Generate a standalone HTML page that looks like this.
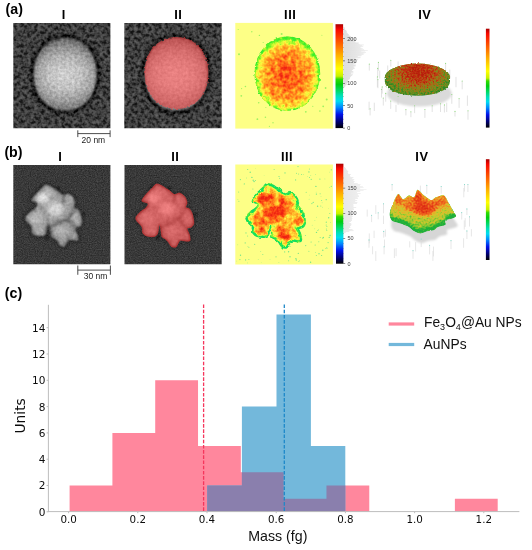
<!DOCTYPE html>
<html lang="en"><head><meta charset="utf-8"><title>Figure</title>
<style>
html,body{margin:0;padding:0;background:#fff;}
body{width:532px;height:550px;overflow:hidden;}
svg{display:block;}
text{font-family:"Liberation Sans",sans-serif;fill:#000;}
.b{font-weight:bold;}
.dv{font-family:"DejaVu Sans","Liberation Sans",sans-serif;fill:#0c0c0c;}
</style></head><body>
<svg width="532" height="550" viewBox="0 0 532 550">
<defs>

<filter id="temA" x="0" y="0" width="100%" height="100%" filterUnits="objectBoundingBox" color-interpolation-filters="sRGB">
  <feGaussianBlur in="SourceGraphic" stdDeviation="0.9" result="s"/>
  <feTurbulence type="fractalNoise" baseFrequency="0.29" numOctaves="2" seed="7" result="t"/>
  <feColorMatrix in="t" type="matrix" values="1 0 0 0 0  1 0 0 0 0  1 0 0 0 0  0 0 0 0 1" result="n0"/>
  <feComponentTransfer in="n0" result="n">
    <feFuncR type="table" tableValues="0.04 0.05 0.07 0.105 0.17 0.245 0.298 0.338 0.375 0.405 0.435"/>
    <feFuncG type="table" tableValues="0.04 0.05 0.07 0.105 0.17 0.245 0.298 0.338 0.375 0.405 0.435"/>
    <feFuncB type="table" tableValues="0.04 0.05 0.07 0.105 0.17 0.245 0.298 0.338 0.375 0.405 0.435"/>
  </feComponentTransfer>
  <feComposite in="s" in2="n" operator="arithmetic" k1="0" k2="1" k3="1" k4="-0.5"/>
</filter>
<filter id="temAp" x="-5%" y="-5%" width="110%" height="110%" color-interpolation-filters="sRGB">
  <feGaussianBlur in="SourceGraphic" stdDeviation="1.0" result="s"/>
  <feTurbulence type="fractalNoise" baseFrequency="0.36" numOctaves="2" seed="17" result="t"/>
  <feColorMatrix in="t" type="matrix" values="1 0 0 0 0  1 0 0 0 0  1 0 0 0 0  0 0 0 0 1" result="n"/>
  <feComposite in="s" in2="n" operator="arithmetic" k1="0" k2="1" k3="0.3" k4="-0.15" result="c"/>
  <feComposite in="c" in2="s" operator="in"/>
</filter>
<filter id="temB" x="0" y="0" width="100%" height="100%" filterUnits="objectBoundingBox" color-interpolation-filters="sRGB">
  <feGaussianBlur in="SourceGraphic" stdDeviation="0.5" result="s"/>
  <feTurbulence type="fractalNoise" baseFrequency="0.85" numOctaves="2" seed="11" result="t"/>
  <feColorMatrix in="t" type="matrix" values="1 0 0 0 0  1 0 0 0 0  1 0 0 0 0  0 0 0 0 1" result="n"/>
  <feComposite in="s" in2="n" operator="arithmetic" k1="0" k2="1" k3="0.22" k4="-0.11"/>
</filter>
<filter id="temBp" x="-5%" y="-5%" width="110%" height="110%" color-interpolation-filters="sRGB">
  <feGaussianBlur in="SourceGraphic" stdDeviation="0.85" result="s"/>
  <feTurbulence type="fractalNoise" baseFrequency="0.3" numOctaves="3" seed="19" result="t"/>
  <feColorMatrix in="t" type="matrix" values="1 0 0 0 0  1 0 0 0 0  1 0 0 0 0  0 0 0 0 1" result="n"/>
  <feComposite in="s" in2="n" operator="arithmetic" k1="0" k2="1" k3="0.22" k4="-0.11" result="c"/>
  <feComposite in="c" in2="s" operator="in"/>
</filter>
<filter id="blur1"><feGaussianBlur stdDeviation="1"/></filter>
<filter id="blur2"><feGaussianBlur stdDeviation="2"/></filter>
<filter id="blur3"><feGaussianBlur stdDeviation="3.2"/></filter>
<filter id="rag" x="-10%" y="-10%" width="120%" height="120%" color-interpolation-filters="sRGB">
  <feTurbulence type="fractalNoise" baseFrequency="0.45" numOctaves="2" seed="5" result="t"/>
  <feDisplacementMap in="SourceGraphic" in2="t" scale="3" xChannelSelector="R" yChannelSelector="G"/>
</filter>

<filter id="heat" x="-10%" y="-10%" width="120%" height="120%" color-interpolation-filters="sRGB">
  <feTurbulence type="fractalNoise" baseFrequency="0.24" numOctaves="2" seed="21" result="t"/>
  <feDisplacementMap in="SourceGraphic" in2="t" scale="3" xChannelSelector="R" yChannelSelector="G" result="d"/>
  <feColorMatrix in="t" type="matrix" values="0 0 1 0 0  0 0 1 0 0  0 0 1 0 0  0 0 0 0 1" result="n"/>
  <feComposite in="d" in2="n" operator="arithmetic" k1="0" k2="1" k3="0.7" k4="-0.33" result="h"/>
  <feComponentTransfer in="h" result="c">
    <feFuncR type="table" tableValues="0.235 0.373 0.588 0.824 1.000 1.000 1.000 1.000 1.000 0.980 0.933"/>
    <feFuncG type="table" tableValues="0.933 0.949 0.969 0.980 0.965 0.839 0.698 0.549 0.392 0.243 0.133"/>
    <feFuncB type="table" tableValues="0.173 0.165 0.165 0.196 0.251 0.196 0.149 0.118 0.094 0.078 0.071"/>
  </feComponentTransfer>
  <feComposite in="c" in2="d" operator="in"/>
</filter>

<filter id="surf" x="-10%" y="-10%" width="120%" height="120%" color-interpolation-filters="sRGB">
  <feTurbulence type="fractalNoise" baseFrequency="0.55" numOctaves="2" seed="9" result="t"/>
  <feDisplacementMap in="SourceGraphic" in2="t" scale="2.5" xChannelSelector="R" yChannelSelector="G" result="d"/>
  <feColorMatrix in="t" type="matrix" values="0 0 1 0 0  0 0 1 0 0  0 0 1 0 0  0 0 0 0 1" result="n"/>
  <feComposite in="d" in2="n" operator="arithmetic" k1="0" k2="1" k3="1.15" k4="-0.575" result="h"/>
  <feComponentTransfer in="h" result="c">
    <feFuncR type="table" tableValues="0.196 0.275 0.373 0.471 0.557 0.627 0.682 0.722 0.745 0.745 0.714"/>
    <feFuncG type="table" tableValues="0.525 0.549 0.557 0.541 0.510 0.447 0.369 0.290 0.212 0.157 0.118"/>
    <feFuncB type="table" tableValues="0.149 0.129 0.118 0.110 0.102 0.094 0.086 0.078 0.067 0.055 0.047"/>
  </feComponentTransfer>
  <feComposite in="c" in2="d" operator="in"/>
</filter>

<filter id="surfB" x="-10%" y="-10%" width="120%" height="120%" color-interpolation-filters="sRGB">
  <feTurbulence type="fractalNoise" baseFrequency="0.5" numOctaves="2" seed="14" result="t"/>
  <feDisplacementMap in="SourceGraphic" in2="t" scale="2" xChannelSelector="R" yChannelSelector="G" result="d"/>
  <feColorMatrix in="t" type="matrix" values="0 0 1 0 0  0 0 1 0 0  0 0 1 0 0  0 0 0 0 1" result="n"/>
  <feComposite in="d" in2="n" operator="arithmetic" k1="0" k2="1" k3="0.6" k4="-0.3" result="h"/>
  <feComponentTransfer in="h" result="c">
    <feFuncR type="table" tableValues="0.118 0.235 0.431 0.647 0.804 0.882 0.922 0.933 0.925 0.902 0.863"/>
    <feFuncG type="table" tableValues="0.686 0.725 0.765 0.784 0.784 0.725 0.608 0.471 0.353 0.255 0.176"/>
    <feFuncB type="table" tableValues="0.235 0.216 0.196 0.188 0.180 0.165 0.149 0.125 0.110 0.094 0.078"/>
  </feComponentTransfer>
  <feComposite in="c" in2="d" operator="in"/>
</filter>

<radialGradient id="gPartA" cx="0.5" cy="0.52" r="0.52">
  <stop offset="0" stop-color="#cecece"/><stop offset="0.35" stop-color="#c6c6c6"/>
  <stop offset="0.6" stop-color="#b8b8b8"/><stop offset="0.8" stop-color="#a4a4a4"/><stop offset="0.92" stop-color="#8e8e8e"/><stop offset="1" stop-color="#6c6c6c"/>
</radialGradient>
<linearGradient id="gShade" x1="0" y1="0" x2="0" y2="1">
  <stop offset="0" stop-color="#000" stop-opacity="0.26"/><stop offset="0.2" stop-color="#000" stop-opacity="0.1"/>
  <stop offset="0.42" stop-color="#000" stop-opacity="0"/><stop offset="0.62" stop-color="#000" stop-opacity="0"/>
  <stop offset="0.82" stop-color="#000" stop-opacity="0.1"/><stop offset="1" stop-color="#000" stop-opacity="0.24"/>
</linearGradient>
<radialGradient id="gHeatA" cx="0.5" cy="0.52" r="0.5">
  <stop offset="0" stop-color="#d6d6d6"/><stop offset="0.4" stop-color="#bcbcbc"/>
  <stop offset="0.68" stop-color="#9c9c9c"/><stop offset="0.8" stop-color="#7c7c7c"/>
  <stop offset="0.87" stop-color="#626262"/><stop offset="0.915" stop-color="#484848"/><stop offset="0.955" stop-color="#1c1c1c"/><stop offset="1" stop-color="#080808"/>
</radialGradient>
<radialGradient id="gDome" gradientUnits="userSpaceOnUse" cx="418" cy="72" r="36" gradientTransform="translate(0 72) scale(1 0.66) translate(0 -72)">
  <stop offset="0" stop-color="#eeeeee"/><stop offset="0.3" stop-color="#d0d0d0"/>
  <stop offset="0.55" stop-color="#989898"/><stop offset="0.78" stop-color="#5e5e5e"/><stop offset="1" stop-color="#1c1c1c"/>
</radialGradient>
<linearGradient id="gF3D" gradientUnits="userSpaceOnUse" x1="0" y1="191" x2="0" y2="235">
  <stop offset="0" stop-color="#a8a8a8"/><stop offset="0.3" stop-color="#8a8a8a"/><stop offset="0.6" stop-color="#666666"/>
  <stop offset="1" stop-color="#3c3c3c"/>
</linearGradient>
<linearGradient id="gHist" gradientUnits="userSpaceOnUse" x1="343" y1="0" x2="368" y2="0">
  <stop offset="0" stop-color="#d4d4d4"/><stop offset="0.5" stop-color="#dedede"/><stop offset="1" stop-color="#ececec"/>
</linearGradient>
<linearGradient id="cbar" x1="0" y1="1" x2="0" y2="0">
  <stop offset="0" stop-color="#000000"/>
  <stop offset="0.06" stop-color="#000070"/>
  <stop offset="0.13" stop-color="#0010e8"/>
  <stop offset="0.2" stop-color="#0088ff"/>
  <stop offset="0.26" stop-color="#00dcf0"/>
  <stop offset="0.31" stop-color="#00e0b8"/>
  <stop offset="0.37" stop-color="#00d858"/>
  <stop offset="0.42" stop-color="#00cc10"/>
  <stop offset="0.47" stop-color="#30dc00"/>
  <stop offset="0.5" stop-color="#c8f000"/>
  <stop offset="0.57" stop-color="#ffff00"/>
  <stop offset="0.7" stop-color="#ffb000"/>
  <stop offset="0.8" stop-color="#ff6a00"/>
  <stop offset="0.95" stop-color="#f80800"/>
  <stop offset="1" stop-color="#a80000"/>
</linearGradient>
</defs>
<rect width="532" height="550" fill="#fff"/>
<clipPath id="clA1"><rect x="13.3" y="23.0" width="97.1" height="105.2"/></clipPath><clipPath id="clA2"><rect x="124.3" y="23.0" width="97.4" height="105.2"/></clipPath>
<!-- row a -->
<g clip-path="url(#clA1)"><g filter="url(#temA)"><rect x="9.3" y="19.0" width="105.1" height="113.2" fill="#808080"/><path d="M97.6 74.2L97.5 77.9L97.1 81.4L96.6 84.6L95.8 87.8L94.7 90.8L93.5 93.6L92.0 96.3L90.4 98.8L88.6 101.2L86.6 103.3L84.4 105.2L82.0 106.9L79.6 108.3L77.0 109.5L74.3 110.4L71.4 111.1L68.4 111.5L65.2 111.6L62.0 111.5L59.0 111.1L56.1 110.4L53.4 109.5L50.8 108.3L48.4 106.9L46.0 105.2L43.8 103.3L41.8 101.2L40.0 98.8L38.4 96.3L36.9 93.6L35.7 90.8L34.6 87.8L33.8 84.6L33.3 81.4L32.9 77.9L32.8 74.2L32.9 70.5L33.3 67.0L33.8 63.8L34.6 60.6L35.7 57.6L36.9 54.8L38.4 52.1L40.0 49.6L41.8 47.2L43.8 45.1L46.0 43.2L48.4 41.5L50.8 40.1L53.4 38.9L56.1 38.0L59.0 37.3L62.0 36.9L65.2 36.8L68.4 36.9L71.4 37.3L74.3 38.0L77.0 38.9L79.6 40.1L82.0 41.5L84.4 43.2L86.6 45.1L88.6 47.2L90.4 49.6L92.0 52.1L93.5 54.8L94.7 57.6L95.8 60.6L96.6 63.8L97.1 67.0L97.5 70.5Z" fill="#5e5e5e" stroke="#5e5e5e" stroke-width="5.6" stroke-linejoin="round"/></g></g><g filter="url(#temAp)"><path d="M97.4 74.2L97.3 77.9L96.9 81.3L96.4 84.6L95.6 87.7L94.5 90.7L93.3 93.5L91.9 96.2L90.2 98.7L88.4 101.0L86.4 103.1L84.3 105.0L81.9 106.7L79.5 108.1L76.9 109.3L74.2 110.2L71.4 110.9L68.4 111.3L65.2 111.4L62.0 111.3L59.0 110.9L56.2 110.2L53.5 109.3L50.9 108.1L48.5 106.7L46.1 105.0L44.0 103.1L42.0 101.0L40.2 98.7L38.5 96.2L37.1 93.5L35.9 90.7L34.8 87.7L34.0 84.6L33.5 81.3L33.1 77.9L33.0 74.2L33.1 70.5L33.5 67.1L34.0 63.8L34.8 60.7L35.9 57.7L37.1 54.9L38.5 52.2L40.2 49.7L42.0 47.4L44.0 45.3L46.1 43.4L48.5 41.7L50.9 40.3L53.5 39.1L56.2 38.2L59.0 37.5L62.0 37.1L65.2 37.0L68.4 37.1L71.4 37.5L74.2 38.2L76.9 39.1L79.5 40.3L81.9 41.7L84.3 43.4L86.4 45.3L88.4 47.4L90.2 49.7L91.9 52.2L93.3 54.9L94.5 57.7L95.6 60.7L96.4 63.8L96.9 67.1L97.3 70.5Z" fill="url(#gPartA)"/><path d="M97.4 74.2L97.3 77.9L96.9 81.3L96.4 84.6L95.6 87.7L94.5 90.7L93.3 93.5L91.9 96.2L90.2 98.7L88.4 101.0L86.4 103.1L84.3 105.0L81.9 106.7L79.5 108.1L76.9 109.3L74.2 110.2L71.4 110.9L68.4 111.3L65.2 111.4L62.0 111.3L59.0 110.9L56.2 110.2L53.5 109.3L50.9 108.1L48.5 106.7L46.1 105.0L44.0 103.1L42.0 101.0L40.2 98.7L38.5 96.2L37.1 93.5L35.9 90.7L34.8 87.7L34.0 84.6L33.5 81.3L33.1 77.9L33.0 74.2L33.1 70.5L33.5 67.1L34.0 63.8L34.8 60.7L35.9 57.7L37.1 54.9L38.5 52.2L40.2 49.7L42.0 47.4L44.0 45.3L46.1 43.4L48.5 41.7L50.9 40.3L53.5 39.1L56.2 38.2L59.0 37.5L62.0 37.1L65.2 37.0L68.4 37.1L71.4 37.5L74.2 38.2L76.9 39.1L79.5 40.3L81.9 41.7L84.3 43.4L86.4 45.3L88.4 47.4L90.2 49.7L91.9 52.2L93.3 54.9L94.5 57.7L95.6 60.7L96.4 63.8L96.9 67.1L97.3 70.5Z" fill="url(#gShade)"/></g>
<g clip-path="url(#clA2)"><g filter="url(#temA)"><rect x="120.3" y="19.0" width="105.4" height="113.2" fill="#808080"/><path d="M208.6 74.2L208.5 77.9L208.1 81.4L207.6 84.6L206.8 87.8L205.7 90.8L204.5 93.6L203.0 96.3L201.4 98.8L199.6 101.2L197.6 103.3L195.4 105.2L193.0 106.9L190.6 108.3L188.0 109.5L185.3 110.4L182.4 111.1L179.4 111.5L176.2 111.6L173.0 111.5L170.0 111.1L167.1 110.4L164.4 109.5L161.8 108.3L159.4 106.9L157.0 105.2L154.8 103.3L152.8 101.2L151.0 98.8L149.4 96.3L147.9 93.6L146.7 90.8L145.6 87.8L144.8 84.6L144.3 81.4L143.9 77.9L143.8 74.2L143.9 70.5L144.3 67.0L144.8 63.8L145.6 60.6L146.7 57.6L147.9 54.8L149.4 52.1L151.0 49.6L152.8 47.2L154.8 45.1L157.0 43.2L159.4 41.5L161.8 40.1L164.4 38.9L167.1 38.0L170.0 37.3L173.0 36.9L176.2 36.8L179.4 36.9L182.4 37.3L185.3 38.0L188.0 38.9L190.6 40.1L193.0 41.5L195.4 43.2L197.6 45.1L199.6 47.2L201.4 49.6L203.0 52.1L204.5 54.8L205.7 57.6L206.8 60.6L207.6 63.8L208.1 67.0L208.5 70.5Z" fill="#5e5e5e" stroke="#5e5e5e" stroke-width="5.6" stroke-linejoin="round"/></g></g><g filter="url(#temAp)"><path d="M208.4 74.2L208.3 77.9L207.9 81.3L207.4 84.6L206.6 87.7L205.5 90.7L204.3 93.5L202.9 96.2L201.2 98.7L199.4 101.0L197.4 103.1L195.3 105.0L192.9 106.7L190.5 108.1L187.9 109.3L185.2 110.2L182.4 110.9L179.4 111.3L176.2 111.4L173.0 111.3L170.0 110.9L167.2 110.2L164.5 109.3L161.9 108.1L159.5 106.7L157.1 105.0L155.0 103.1L153.0 101.0L151.2 98.7L149.5 96.2L148.1 93.5L146.9 90.7L145.8 87.7L145.0 84.6L144.5 81.3L144.1 77.9L144.0 74.2L144.1 70.5L144.5 67.1L145.0 63.8L145.8 60.7L146.9 57.7L148.1 54.9L149.5 52.2L151.2 49.7L153.0 47.4L155.0 45.3L157.1 43.4L159.5 41.7L161.9 40.3L164.5 39.1L167.2 38.2L170.0 37.5L173.0 37.1L176.2 37.0L179.4 37.1L182.4 37.5L185.2 38.2L187.9 39.1L190.5 40.3L192.9 41.7L195.3 43.4L197.4 45.3L199.4 47.4L201.2 49.7L202.9 52.2L204.3 54.9L205.5 57.7L206.6 60.7L207.4 63.8L207.9 67.1L208.3 70.5Z" fill="url(#gPartA)"/><path d="M208.4 74.2L208.3 77.9L207.9 81.3L207.4 84.6L206.6 87.7L205.5 90.7L204.3 93.5L202.9 96.2L201.2 98.7L199.4 101.0L197.4 103.1L195.3 105.0L192.9 106.7L190.5 108.1L187.9 109.3L185.2 110.2L182.4 110.9L179.4 111.3L176.2 111.4L173.0 111.3L170.0 110.9L167.2 110.2L164.5 109.3L161.9 108.1L159.5 106.7L157.1 105.0L155.0 103.1L153.0 101.0L151.2 98.7L149.5 96.2L148.1 93.5L146.9 90.7L145.8 87.7L145.0 84.6L144.5 81.3L144.1 77.9L144.0 74.2L144.1 70.5L144.5 67.1L145.0 63.8L145.8 60.7L146.9 57.7L148.1 54.9L149.5 52.2L151.2 49.7L153.0 47.4L155.0 45.3L157.1 43.4L159.5 41.7L161.9 40.3L164.5 39.1L167.2 38.2L170.0 37.5L173.0 37.1L176.2 37.0L179.4 37.1L182.4 37.5L185.2 38.2L187.9 39.1L190.5 40.3L192.9 41.7L195.3 43.4L197.4 45.3L199.4 47.4L201.2 49.7L202.9 52.2L204.3 54.9L205.5 57.7L206.6 60.7L207.4 63.8L207.9 67.1L208.3 70.5Z" fill="url(#gShade)"/></g><g filter="url(#rag)"><path d="M208.4 73.0L208.3 76.6L207.9 79.9L207.4 83.0L206.6 86.0L205.6 88.9L204.4 91.7L202.9 94.2L201.3 96.7L199.5 98.9L197.5 100.9L195.4 102.7L193.1 104.3L190.7 105.7L188.1 106.9L185.4 107.7L182.6 108.4L179.7 108.8L176.5 108.9L173.3 108.8L170.4 108.4L167.6 107.7L164.9 106.9L162.3 105.7L159.9 104.3L157.6 102.7L155.5 100.9L153.5 98.9L151.7 96.7L150.1 94.2L148.6 91.7L147.4 88.9L146.4 86.0L145.6 83.0L145.1 79.9L144.7 76.6L144.6 73.0L144.7 69.4L145.1 66.1L145.6 63.0L146.4 60.0L147.4 57.1L148.6 54.3L150.1 51.8L151.7 49.3L153.5 47.1L155.5 45.1L157.6 43.3L159.9 41.7L162.3 40.3L164.9 39.1L167.6 38.3L170.4 37.6L173.3 37.2L176.5 37.1L179.7 37.2L182.6 37.6L185.4 38.3L188.1 39.1L190.7 40.3L193.1 41.7L195.4 43.3L197.5 45.1L199.5 47.1L201.3 49.3L202.9 51.8L204.4 54.3L205.6 57.1L206.6 60.0L207.4 63.0L207.9 66.1L208.3 69.4Z" fill="#ff4646" fill-opacity="0.56"/></g>
<rect x="235.3" y="22.9" width="97.6" height="105.7" fill="#fdff86"/>
<g fill="#8df05a" opacity="0.85"><circle cx="259.4" cy="35.4" r="0.7"/><circle cx="251.8" cy="31.7" r="0.7"/><circle cx="323.2" cy="106.3" r="0.9"/><circle cx="263.2" cy="42.5" r="0.6"/><circle cx="257.4" cy="119.2" r="0.9"/><circle cx="312.8" cy="106.3" r="0.6"/><circle cx="305.8" cy="111.8" r="0.9"/><circle cx="245.4" cy="86.5" r="0.8"/><circle cx="281.6" cy="34.0" r="1.0"/><circle cx="265.4" cy="117.3" r="0.8"/><circle cx="319.9" cy="111.1" r="0.8"/><circle cx="265.9" cy="107.5" r="0.5"/><circle cx="241.6" cy="88.6" r="0.6"/><circle cx="269.4" cy="126.3" r="0.6"/><circle cx="321.9" cy="35.2" r="0.5"/><circle cx="258.7" cy="102.7" r="0.8"/><circle cx="241.3" cy="95.8" r="0.9"/><circle cx="326.7" cy="99.6" r="1.0"/><circle cx="239.0" cy="54.3" r="1.0"/><circle cx="325.6" cy="88.0" r="0.9"/><circle cx="273.0" cy="122.7" r="0.7"/><circle cx="238.2" cy="29.5" r="0.6"/></g>
<g filter="url(#heat)"><ellipse cx="287.3" cy="73.6" rx="33" ry="37.4" fill="url(#gHeatA)"/></g>
<rect x="335.5" y="24.2" width="7.6" height="103.9" fill="url(#cbar)"/>
<rect x="485.9" y="28.7" width="3.6" height="98.9" fill="url(#cbar)"/>
<g fill="url(#gHist)"><rect x="343.3" y="27.00" width="1.0" height="0.70"/><rect x="343.3" y="27.73" width="1.5" height="0.70"/><rect x="343.3" y="28.47" width="1.4" height="0.70"/><rect x="343.3" y="29.20" width="1.7" height="0.70"/><rect x="343.3" y="29.93" width="2.8" height="0.70"/><rect x="343.3" y="30.67" width="3.1" height="0.70"/><rect x="343.3" y="31.40" width="3.5" height="0.70"/><rect x="343.3" y="32.13" width="3.4" height="0.70"/><rect x="343.3" y="32.87" width="4.2" height="0.70"/><rect x="343.3" y="33.60" width="4.6" height="0.70"/><rect x="343.3" y="34.29" width="5.5" height="0.70"/><rect x="343.3" y="34.98" width="5.4" height="0.70"/><rect x="343.3" y="35.67" width="6.9" height="0.70"/><rect x="343.3" y="36.36" width="7.7" height="0.70"/><rect x="343.3" y="37.05" width="9.7" height="0.70"/><rect x="343.3" y="37.74" width="11.6" height="0.70"/><rect x="343.3" y="38.43" width="12.5" height="0.70"/><rect x="343.3" y="39.12" width="11.8" height="0.70"/><rect x="343.3" y="39.81" width="12.2" height="0.70"/><rect x="343.3" y="40.50" width="12.2" height="0.70"/><rect x="343.3" y="41.18" width="11.6" height="0.70"/><rect x="343.3" y="41.86" width="12.2" height="0.70"/><rect x="343.3" y="42.54" width="15.4" height="0.70"/><rect x="343.3" y="43.22" width="15.2" height="0.70"/><rect x="343.3" y="43.90" width="16.3" height="0.70"/><rect x="343.3" y="44.58" width="20.6" height="0.70"/><rect x="343.3" y="45.26" width="18.8" height="0.70"/><rect x="343.3" y="45.94" width="19.9" height="0.70"/><rect x="343.3" y="46.62" width="18.1" height="0.70"/><rect x="343.3" y="47.30" width="17.1" height="0.70"/><rect x="343.3" y="47.98" width="19.4" height="0.70"/><rect x="343.3" y="48.67" width="17.9" height="0.70"/><rect x="343.3" y="49.35" width="20.8" height="0.70"/><rect x="343.3" y="50.03" width="24.5" height="0.70"/><rect x="343.3" y="50.72" width="21.9" height="0.70"/><rect x="343.3" y="51.40" width="18.0" height="0.70"/><rect x="343.3" y="52.07" width="22.7" height="0.70"/><rect x="343.3" y="52.75" width="21.2" height="0.70"/><rect x="343.3" y="53.42" width="19.9" height="0.70"/><rect x="343.3" y="54.10" width="20.3" height="0.70"/><rect x="343.3" y="54.77" width="18.5" height="0.70"/><rect x="343.3" y="55.45" width="17.9" height="0.70"/><rect x="343.3" y="56.12" width="14.5" height="0.70"/><rect x="343.3" y="56.80" width="17.4" height="0.70"/><rect x="343.3" y="57.49" width="16.9" height="0.70"/><rect x="343.3" y="58.18" width="12.2" height="0.70"/><rect x="343.3" y="58.87" width="14.9" height="0.70"/><rect x="343.3" y="59.56" width="14.4" height="0.70"/><rect x="343.3" y="60.25" width="12.7" height="0.70"/><rect x="343.3" y="60.94" width="12.7" height="0.70"/><rect x="343.3" y="61.63" width="12.1" height="0.70"/><rect x="343.3" y="62.32" width="13.8" height="0.70"/><rect x="343.3" y="63.01" width="11.5" height="0.70"/><rect x="343.3" y="63.70" width="12.5" height="0.70"/><rect x="343.3" y="64.38" width="10.3" height="0.70"/><rect x="343.3" y="65.05" width="12.4" height="0.70"/><rect x="343.3" y="65.72" width="12.2" height="0.70"/><rect x="343.3" y="66.40" width="10.3" height="0.70"/><rect x="343.3" y="67.08" width="10.5" height="0.70"/><rect x="343.3" y="67.75" width="11.7" height="0.70"/><rect x="343.3" y="68.42" width="10.8" height="0.70"/><rect x="343.3" y="69.10" width="9.7" height="0.70"/><rect x="343.3" y="69.78" width="8.6" height="0.70"/><rect x="343.3" y="70.45" width="8.8" height="0.70"/><rect x="343.3" y="71.12" width="10.0" height="0.70"/><rect x="343.3" y="71.80" width="7.9" height="0.70"/><rect x="343.3" y="72.49" width="10.1" height="0.70"/><rect x="343.3" y="73.18" width="7.7" height="0.70"/><rect x="343.3" y="73.87" width="9.5" height="0.70"/><rect x="343.3" y="74.56" width="7.3" height="0.70"/><rect x="343.3" y="75.25" width="8.9" height="0.70"/><rect x="343.3" y="75.94" width="7.8" height="0.70"/><rect x="343.3" y="76.63" width="7.0" height="0.70"/><rect x="343.3" y="77.32" width="6.7" height="0.70"/><rect x="343.3" y="78.01" width="6.7" height="0.70"/><rect x="343.3" y="78.70" width="6.3" height="0.70"/><rect x="343.3" y="79.36" width="5.3" height="0.70"/><rect x="343.3" y="80.03" width="4.7" height="0.70"/><rect x="343.3" y="80.69" width="4.9" height="0.70"/><rect x="343.3" y="81.35" width="5.3" height="0.70"/><rect x="343.3" y="82.01" width="4.4" height="0.70"/><rect x="343.3" y="82.67" width="3.2" height="0.70"/><rect x="343.3" y="83.34" width="3.8" height="0.70"/><rect x="343.3" y="84.00" width="3.3" height="0.70"/><rect x="343.3" y="84.67" width="3.0" height="0.70"/><rect x="343.3" y="85.33" width="1.9" height="0.70"/><rect x="343.3" y="86.00" width="1.9" height="0.70"/><rect x="343.3" y="86.67" width="1.1" height="0.70"/><rect x="343.3" y="87.33" width="0.9" height="0.70"/></g>
<g font-size="5.5"><rect x="343.0" y="127.85" width="0.8" height="0.5" fill="#777"/><rect x="343.0" y="123.37" width="0.8" height="0.5" fill="#777"/><rect x="343.0" y="118.89" width="0.8" height="0.5" fill="#777"/><rect x="343.0" y="114.41" width="0.8" height="0.5" fill="#777"/><rect x="343.0" y="109.93" width="0.8" height="0.5" fill="#777"/><rect x="343.0" y="105.45" width="0.8" height="0.5" fill="#777"/><rect x="343.0" y="100.97" width="0.8" height="0.5" fill="#777"/><rect x="343.0" y="96.49" width="0.8" height="0.5" fill="#777"/><rect x="343.0" y="92.01" width="0.8" height="0.5" fill="#777"/><rect x="343.0" y="87.53" width="0.8" height="0.5" fill="#777"/><rect x="343.0" y="83.05" width="0.8" height="0.5" fill="#777"/><rect x="343.0" y="78.57" width="0.8" height="0.5" fill="#777"/><rect x="343.0" y="74.09" width="0.8" height="0.5" fill="#777"/><rect x="343.0" y="69.61" width="0.8" height="0.5" fill="#777"/><rect x="343.0" y="65.13" width="0.8" height="0.5" fill="#777"/><rect x="343.0" y="60.65" width="0.8" height="0.5" fill="#777"/><rect x="343.0" y="56.17" width="0.8" height="0.5" fill="#777"/><rect x="343.0" y="51.69" width="0.8" height="0.5" fill="#777"/><rect x="343.0" y="47.21" width="0.8" height="0.5" fill="#777"/><rect x="343.0" y="42.73" width="0.8" height="0.5" fill="#777"/><rect x="343.0" y="38.25" width="0.8" height="0.5" fill="#777"/><rect x="343.0" y="33.77" width="0.8" height="0.5" fill="#777"/><rect x="343.0" y="29.29" width="0.8" height="0.5" fill="#777"/><rect x="343.2" y="127.80" width="1.8" height="0.6" fill="#444"/><text x="347.3" y="130.0" style="fill:#3c3c3c">0</text><rect x="343.2" y="105.40" width="1.8" height="0.6" fill="#444"/><text x="347.3" y="107.6" style="fill:#3c3c3c">50</text><rect x="343.2" y="83.00" width="1.8" height="0.6" fill="#444"/><text x="347.3" y="85.2" style="fill:#3c3c3c">100</text><rect x="343.2" y="60.60" width="1.8" height="0.6" fill="#444"/><text x="347.3" y="62.9" style="fill:#3c3c3c">150</text><rect x="343.2" y="38.20" width="1.8" height="0.6" fill="#444"/><text x="347.3" y="40.5" style="fill:#3c3c3c">200</text></g>
<ellipse cx="419.4" cy="93.6" rx="32.5" ry="13" fill="#dadada" filter="url(#blur1)"/>
<g stroke="#d6d6d6" stroke-width="0.7"><line x1="378.4" y1="62.4" x2="378.4" y2="70.7"/><line x1="387.7" y1="65.5" x2="387.7" y2="72.7"/><line x1="398.1" y1="61.4" x2="398.1" y2="66.5"/><line x1="445.6" y1="63.4" x2="445.6" y2="71.7"/><line x1="377.4" y1="76.9" x2="377.4" y2="87.2"/><line x1="385.7" y1="93.4" x2="385.7" y2="101.7"/><line x1="374.3" y1="102.7" x2="374.3" y2="111.0"/><line x1="369.1" y1="101.7" x2="369.1" y2="110.0"/><line x1="398.1" y1="96.5" x2="398.1" y2="104.8"/><line x1="414.6" y1="105.8" x2="414.6" y2="113.1"/><line x1="396.0" y1="104.8" x2="396.0" y2="112.0"/><line x1="440.5" y1="103.8" x2="440.5" y2="112.0"/><line x1="446.7" y1="102.7" x2="446.7" y2="112.0"/><line x1="432.2" y1="105.8" x2="432.2" y2="112.0"/><line x1="451.8" y1="94.5" x2="451.8" y2="103.8"/><line x1="456.0" y1="76.9" x2="456.0" y2="87.2"/><line x1="462.2" y1="81.0" x2="462.2" y2="89.3"/><line x1="467.4" y1="95.5" x2="467.4" y2="105.8"/><line x1="449.8" y1="69.6" x2="449.8" y2="78.9"/><line x1="381.5" y1="89.3" x2="381.5" y2="97.6"/><line x1="459.1" y1="98.6" x2="459.1" y2="107.9"/><line x1="369.3" y1="64.1" x2="369.3" y2="70.6"/><line x1="379.7" y1="70.5" x2="379.7" y2="78.5"/><line x1="383.3" y1="98.0" x2="383.3" y2="105.6"/><line x1="382.2" y1="86.9" x2="382.2" y2="93.7"/><line x1="410.9" y1="111.8" x2="410.9" y2="117.2"/><line x1="370.1" y1="108.7" x2="370.1" y2="115.4"/><line x1="405.9" y1="109.6" x2="405.9" y2="115.4"/><line x1="424.9" y1="109.5" x2="424.9" y2="117.9"/><line x1="455.0" y1="111.4" x2="455.0" y2="116.5"/><line x1="444.4" y1="104.9" x2="444.4" y2="112.5"/><line x1="390.7" y1="101.0" x2="390.7" y2="108.9"/><line x1="390.8" y1="60.2" x2="390.8" y2="66.6"/><line x1="468.0" y1="110.7" x2="468.0" y2="119.7"/><line x1="377.7" y1="68.4" x2="377.7" y2="77.1"/><line x1="377.9" y1="79.6" x2="377.9" y2="88.2"/></g><g fill="#8fdc7c"><circle cx="378.4" cy="62.4" r="0.55"/><circle cx="445.6" cy="63.4" r="0.55"/><circle cx="377.4" cy="76.9" r="0.55"/><circle cx="385.7" cy="93.4" r="0.55"/><circle cx="398.1" cy="96.5" r="0.55"/><circle cx="414.6" cy="105.8" r="0.55"/><circle cx="440.5" cy="103.8" r="0.55"/><circle cx="432.2" cy="105.8" r="0.55"/><circle cx="451.8" cy="94.5" r="0.55"/><circle cx="462.2" cy="81.0" r="0.55"/><circle cx="381.5" cy="89.3" r="0.55"/><circle cx="459.1" cy="98.6" r="0.55"/><circle cx="369.3" cy="64.1" r="0.55"/><circle cx="383.3" cy="98.0" r="0.55"/><circle cx="382.2" cy="86.9" r="0.55"/><circle cx="410.9" cy="111.8" r="0.55"/><circle cx="370.1" cy="108.7" r="0.55"/><circle cx="405.9" cy="109.6" r="0.55"/><circle cx="424.9" cy="109.5" r="0.55"/><circle cx="455.0" cy="111.4" r="0.55"/><circle cx="444.4" cy="104.9" r="0.55"/><circle cx="390.7" cy="101.0" r="0.55"/><circle cx="390.8" cy="60.2" r="0.55"/><circle cx="468.0" cy="110.7" r="0.55"/><circle cx="377.7" cy="68.4" r="0.55"/><circle cx="377.9" cy="79.6" r="0.55"/></g>
<g filter="url(#surf)"><path d="M384.8 77.6 A32.6 14.0 0 0 1 450.0 77.6 L450.0 81.8 A32.6 14.0 0 0 1 384.8 81.8 Z" fill="url(#gDome)"/><ellipse cx="417.4" cy="77.6" rx="32.6" ry="14.0" fill="url(#gDome)"/></g>
<clipPath id="cp1"><path d="M45.1 184.0C46.5 183.6 48.9 184.8 50.3 185.5C51.8 186.2 53.6 187.7 54.8 188.5C56.1 189.3 57.4 189.9 58.6 190.8C59.8 191.7 61.6 194.2 63.1 194.5C64.6 194.9 66.8 192.7 68.4 193.0C70.0 193.4 72.5 195.3 73.6 196.8C74.8 198.3 75.8 201.2 75.9 202.8C76.0 204.4 74.1 206.4 74.4 207.3C74.7 208.2 77.1 207.8 78.2 208.8C79.2 209.8 80.5 212.0 81.2 214.1C81.8 216.2 82.8 221.2 82.7 223.1C82.5 225.0 81.4 226.1 80.4 226.9C79.4 227.7 76.2 227.3 75.9 228.4C75.6 229.5 77.7 232.6 78.2 234.4C78.6 236.2 79.4 239.4 78.9 240.4C78.5 241.4 76.6 241.2 75.1 241.2C73.7 241.2 70.4 240.1 69.1 240.4C67.9 240.8 67.5 242.4 66.9 243.4C66.2 244.4 65.6 246.7 64.6 247.2C63.6 247.6 61.2 247.2 60.1 246.4C59.0 245.6 58.0 243.0 57.1 241.9C56.2 240.8 55.0 239.7 54.1 238.9C53.1 238.2 51.4 238.0 50.8 237.0C50.2 235.9 50.2 233.9 49.9 232.1C49.6 230.4 49.3 226.5 49.0 225.5C48.7 224.5 48.2 224.3 47.8 225.5C47.4 226.8 47.1 232.3 46.3 233.9C45.4 235.6 43.7 236.4 42.1 236.7C40.4 236.9 36.9 236.5 35.3 235.9C33.7 235.3 32.2 234.2 31.5 232.9C30.9 231.5 31.7 228.7 30.8 226.9C29.9 225.1 26.4 222.3 25.5 220.9C24.6 219.4 24.2 218.5 24.8 217.1C25.3 215.8 27.8 213.2 29.3 211.8C30.7 210.5 33.4 209.3 34.5 208.1C35.7 206.8 37.4 204.6 36.8 203.6C36.2 202.6 31.5 202.2 30.8 201.3C30.1 200.4 31.5 198.8 32.3 197.6C33.1 196.3 34.8 194.4 36.0 193.0C37.3 191.7 39.2 189.9 40.6 188.5C41.9 187.2 43.6 184.5 45.1 184.0Z"/></clipPath><clipPath id="cp2"><path d="M156.3 184.0C157.7 183.6 160.1 184.8 161.5 185.5C163.0 186.2 164.8 187.7 166.0 188.5C167.3 189.3 168.6 189.9 169.8 190.8C171.0 191.7 172.8 194.2 174.3 194.5C175.8 194.9 178.0 192.7 179.6 193.0C181.2 193.4 183.7 195.3 184.8 196.8C186.0 198.3 187.0 201.2 187.1 202.8C187.2 204.4 185.3 206.4 185.6 207.3C185.9 208.2 188.3 207.8 189.4 208.8C190.4 209.8 191.7 212.0 192.4 214.1C193.0 216.2 194.0 221.2 193.9 223.1C193.7 225.0 192.6 226.1 191.6 226.9C190.6 227.7 187.4 227.3 187.1 228.4C186.8 229.5 188.9 232.6 189.4 234.4C189.8 236.2 190.6 239.4 190.1 240.4C189.7 241.4 187.8 241.2 186.3 241.2C184.9 241.2 181.6 240.1 180.3 240.4C179.1 240.8 178.7 242.4 178.1 243.4C177.4 244.4 176.8 246.7 175.8 247.2C174.8 247.6 172.4 247.2 171.3 246.4C170.2 245.6 169.2 243.0 168.3 241.9C167.4 240.8 166.2 239.7 165.3 238.9C164.3 238.2 162.6 238.0 162.0 237.0C161.4 235.9 161.4 233.9 161.1 232.1C160.8 230.4 160.5 226.5 160.2 225.5C159.9 224.5 159.4 224.3 159.0 225.5C158.6 226.8 158.3 232.3 157.5 233.9C156.6 235.6 154.9 236.4 153.3 236.7C151.6 236.9 148.1 236.5 146.5 235.9C144.9 235.3 143.4 234.2 142.7 232.9C142.1 231.5 142.9 228.7 142.0 226.9C141.1 225.1 137.6 222.3 136.7 220.9C135.8 219.4 135.4 218.5 136.0 217.1C136.5 215.8 139.0 213.2 140.5 211.8C141.9 210.5 144.6 209.3 145.7 208.1C146.9 206.8 148.6 204.6 148.0 203.6C147.4 202.6 142.7 202.2 142.0 201.3C141.3 200.4 142.7 198.8 143.5 197.6C144.3 196.3 146.0 194.4 147.2 193.0C148.5 191.7 150.4 189.9 151.8 188.5C153.1 187.2 154.8 184.5 156.3 184.0Z"/></clipPath>
<clipPath id="clB1"><rect x="13.3" y="165.1" width="97.1" height="99.1"/></clipPath><clipPath id="clB2"><rect x="124.5" y="165.1" width="97.2" height="99.1"/></clipPath>
<!-- row b -->
<g clip-path="url(#clB1)"><g filter="url(#temB)"><rect x="9.3" y="161.1" width="105.1" height="107.1" fill="#393939"/><path d="M45.1 184.0C46.5 183.6 48.9 184.8 50.3 185.5C51.8 186.2 53.6 187.7 54.8 188.5C56.1 189.3 57.4 189.9 58.6 190.8C59.8 191.7 61.6 194.2 63.1 194.5C64.6 194.9 66.8 192.7 68.4 193.0C70.0 193.4 72.5 195.3 73.6 196.8C74.8 198.3 75.8 201.2 75.9 202.8C76.0 204.4 74.1 206.4 74.4 207.3C74.7 208.2 77.1 207.8 78.2 208.8C79.2 209.8 80.5 212.0 81.2 214.1C81.8 216.2 82.8 221.2 82.7 223.1C82.5 225.0 81.4 226.1 80.4 226.9C79.4 227.7 76.2 227.3 75.9 228.4C75.6 229.5 77.7 232.6 78.2 234.4C78.6 236.2 79.4 239.4 78.9 240.4C78.5 241.4 76.6 241.2 75.1 241.2C73.7 241.2 70.4 240.1 69.1 240.4C67.9 240.8 67.5 242.4 66.9 243.4C66.2 244.4 65.6 246.7 64.6 247.2C63.6 247.6 61.2 247.2 60.1 246.4C59.0 245.6 58.0 243.0 57.1 241.9C56.2 240.8 55.0 239.7 54.1 238.9C53.1 238.2 51.4 238.0 50.8 237.0C50.2 235.9 50.2 233.9 49.9 232.1C49.6 230.4 49.3 226.5 49.0 225.5C48.7 224.5 48.2 224.3 47.8 225.5C47.4 226.8 47.1 232.3 46.3 233.9C45.4 235.6 43.7 236.4 42.1 236.7C40.4 236.9 36.9 236.5 35.3 235.9C33.7 235.3 32.2 234.2 31.5 232.9C30.9 231.5 31.7 228.7 30.8 226.9C29.9 225.1 26.4 222.3 25.5 220.9C24.6 219.4 24.2 218.5 24.8 217.1C25.3 215.8 27.8 213.2 29.3 211.8C30.7 210.5 33.4 209.3 34.5 208.1C35.7 206.8 37.4 204.6 36.8 203.6C36.2 202.6 31.5 202.2 30.8 201.3C30.1 200.4 31.5 198.8 32.3 197.6C33.1 196.3 34.8 194.4 36.0 193.0C37.3 191.7 39.2 189.9 40.6 188.5C41.9 187.2 43.6 184.5 45.1 184.0Z" fill="#2b2b2b" stroke="#2b2b2b" stroke-width="3.5" filter="url(#blur1)"/><circle cx="46.6" cy="237.9" r="1.8" fill="#161616" filter="url(#blur1)"/><circle cx="58.3" cy="188.8" r="1.8" fill="#161616" filter="url(#blur1)"/><circle cx="84.2" cy="214.4" r="1.5" fill="#161616" filter="url(#blur1)"/><circle cx="40.6" cy="186.3" r="1.2" fill="#161616" filter="url(#blur1)"/></g></g><g filter="url(#temBp)"><path d="M45.1 184.0C46.5 183.6 48.9 184.8 50.3 185.5C51.8 186.2 53.6 187.7 54.8 188.5C56.1 189.3 57.4 189.9 58.6 190.8C59.8 191.7 61.6 194.2 63.1 194.5C64.6 194.9 66.8 192.7 68.4 193.0C70.0 193.4 72.5 195.3 73.6 196.8C74.8 198.3 75.8 201.2 75.9 202.8C76.0 204.4 74.1 206.4 74.4 207.3C74.7 208.2 77.1 207.8 78.2 208.8C79.2 209.8 80.5 212.0 81.2 214.1C81.8 216.2 82.8 221.2 82.7 223.1C82.5 225.0 81.4 226.1 80.4 226.9C79.4 227.7 76.2 227.3 75.9 228.4C75.6 229.5 77.7 232.6 78.2 234.4C78.6 236.2 79.4 239.4 78.9 240.4C78.5 241.4 76.6 241.2 75.1 241.2C73.7 241.2 70.4 240.1 69.1 240.4C67.9 240.8 67.5 242.4 66.9 243.4C66.2 244.4 65.6 246.7 64.6 247.2C63.6 247.6 61.2 247.2 60.1 246.4C59.0 245.6 58.0 243.0 57.1 241.9C56.2 240.8 55.0 239.7 54.1 238.9C53.1 238.2 51.4 238.0 50.8 237.0C50.2 235.9 50.2 233.9 49.9 232.1C49.6 230.4 49.3 226.5 49.0 225.5C48.7 224.5 48.2 224.3 47.8 225.5C47.4 226.8 47.1 232.3 46.3 233.9C45.4 235.6 43.7 236.4 42.1 236.7C40.4 236.9 36.9 236.5 35.3 235.9C33.7 235.3 32.2 234.2 31.5 232.9C30.9 231.5 31.7 228.7 30.8 226.9C29.9 225.1 26.4 222.3 25.5 220.9C24.6 219.4 24.2 218.5 24.8 217.1C25.3 215.8 27.8 213.2 29.3 211.8C30.7 210.5 33.4 209.3 34.5 208.1C35.7 206.8 37.4 204.6 36.8 203.6C36.2 202.6 31.5 202.2 30.8 201.3C30.1 200.4 31.5 198.8 32.3 197.6C33.1 196.3 34.8 194.4 36.0 193.0C37.3 191.7 39.2 189.9 40.6 188.5C41.9 187.2 43.6 184.5 45.1 184.0Z" fill="#9a9a9a"/><g clip-path="url(#cp1)"><g filter="url(#blur2)"><ellipse cx="42.8" cy="197.6" rx="6.6" ry="5.7" fill="#e2e2e2"/><ellipse cx="55.6" cy="208.8" rx="8.4" ry="6.9" fill="#d8d8d8"/><ellipse cx="36.0" cy="218.6" rx="7.2" ry="6.8" fill="#b6b6b6"/><ellipse cx="40.6" cy="230.6" rx="6.0" ry="4.5" fill="#aaaaaa"/><ellipse cx="66.1" cy="200.6" rx="6.0" ry="5.7" fill="#a8a8a8"/><ellipse cx="75.9" cy="218.6" rx="4.5" ry="6.0" fill="#adadad"/><ellipse cx="60.9" cy="231.4" rx="6.0" ry="5.3" fill="#b2b2b2"/><ellipse cx="69.1" cy="238.2" rx="6.0" ry="3.8" fill="#929292"/><ellipse cx="50.3" cy="191.5" rx="6.0" ry="4.5" fill="#b0b0b0"/></g><g filter="url(#blur1)" stroke="#5c5c5c" stroke-width="2.4" fill="none" stroke-linecap="round"><polyline points="48.1,227.9 56.3,223.9 67.6,218.9 73.9,209.9"/><polyline points="67.6,218.9 75.1,227.6"/><polyline points="52.9,238.2 50.3,232.1 48.5,227.9"/><polyline points="63.1,195.3 63.1,203.6"/></g><path d="M45.1 184.0C46.5 183.6 48.9 184.8 50.3 185.5C51.8 186.2 53.6 187.7 54.8 188.5C56.1 189.3 57.4 189.9 58.6 190.8C59.8 191.7 61.6 194.2 63.1 194.5C64.6 194.9 66.8 192.7 68.4 193.0C70.0 193.4 72.5 195.3 73.6 196.8C74.8 198.3 75.8 201.2 75.9 202.8C76.0 204.4 74.1 206.4 74.4 207.3C74.7 208.2 77.1 207.8 78.2 208.8C79.2 209.8 80.5 212.0 81.2 214.1C81.8 216.2 82.8 221.2 82.7 223.1C82.5 225.0 81.4 226.1 80.4 226.9C79.4 227.7 76.2 227.3 75.9 228.4C75.6 229.5 77.7 232.6 78.2 234.4C78.6 236.2 79.4 239.4 78.9 240.4C78.5 241.4 76.6 241.2 75.1 241.2C73.7 241.2 70.4 240.1 69.1 240.4C67.9 240.8 67.5 242.4 66.9 243.4C66.2 244.4 65.6 246.7 64.6 247.2C63.6 247.6 61.2 247.2 60.1 246.4C59.0 245.6 58.0 243.0 57.1 241.9C56.2 240.8 55.0 239.7 54.1 238.9C53.1 238.2 51.4 238.0 50.8 237.0C50.2 235.9 50.2 233.9 49.9 232.1C49.6 230.4 49.3 226.5 49.0 225.5C48.7 224.5 48.2 224.3 47.8 225.5C47.4 226.8 47.1 232.3 46.3 233.9C45.4 235.6 43.7 236.4 42.1 236.7C40.4 236.9 36.9 236.5 35.3 235.9C33.7 235.3 32.2 234.2 31.5 232.9C30.9 231.5 31.7 228.7 30.8 226.9C29.9 225.1 26.4 222.3 25.5 220.9C24.6 219.4 24.2 218.5 24.8 217.1C25.3 215.8 27.8 213.2 29.3 211.8C30.7 210.5 33.4 209.3 34.5 208.1C35.7 206.8 37.4 204.6 36.8 203.6C36.2 202.6 31.5 202.2 30.8 201.3C30.1 200.4 31.5 198.8 32.3 197.6C33.1 196.3 34.8 194.4 36.0 193.0C37.3 191.7 39.2 189.9 40.6 188.5C41.9 187.2 43.6 184.5 45.1 184.0Z" fill="none" stroke="#7a7a7a" stroke-width="3.4" filter="url(#blur1)"/></g></g>
<g clip-path="url(#clB2)"><g filter="url(#temB)"><rect x="120.5" y="161.1" width="105.2" height="107.1" fill="#393939"/><path d="M156.3 184.0C157.7 183.6 160.1 184.8 161.5 185.5C163.0 186.2 164.8 187.7 166.0 188.5C167.3 189.3 168.6 189.9 169.8 190.8C171.0 191.7 172.8 194.2 174.3 194.5C175.8 194.9 178.0 192.7 179.6 193.0C181.2 193.4 183.7 195.3 184.8 196.8C186.0 198.3 187.0 201.2 187.1 202.8C187.2 204.4 185.3 206.4 185.6 207.3C185.9 208.2 188.3 207.8 189.4 208.8C190.4 209.8 191.7 212.0 192.4 214.1C193.0 216.2 194.0 221.2 193.9 223.1C193.7 225.0 192.6 226.1 191.6 226.9C190.6 227.7 187.4 227.3 187.1 228.4C186.8 229.5 188.9 232.6 189.4 234.4C189.8 236.2 190.6 239.4 190.1 240.4C189.7 241.4 187.8 241.2 186.3 241.2C184.9 241.2 181.6 240.1 180.3 240.4C179.1 240.8 178.7 242.4 178.1 243.4C177.4 244.4 176.8 246.7 175.8 247.2C174.8 247.6 172.4 247.2 171.3 246.4C170.2 245.6 169.2 243.0 168.3 241.9C167.4 240.8 166.2 239.7 165.3 238.9C164.3 238.2 162.6 238.0 162.0 237.0C161.4 235.9 161.4 233.9 161.1 232.1C160.8 230.4 160.5 226.5 160.2 225.5C159.9 224.5 159.4 224.3 159.0 225.5C158.6 226.8 158.3 232.3 157.5 233.9C156.6 235.6 154.9 236.4 153.3 236.7C151.6 236.9 148.1 236.5 146.5 235.9C144.9 235.3 143.4 234.2 142.7 232.9C142.1 231.5 142.9 228.7 142.0 226.9C141.1 225.1 137.6 222.3 136.7 220.9C135.8 219.4 135.4 218.5 136.0 217.1C136.5 215.8 139.0 213.2 140.5 211.8C141.9 210.5 144.6 209.3 145.7 208.1C146.9 206.8 148.6 204.6 148.0 203.6C147.4 202.6 142.7 202.2 142.0 201.3C141.3 200.4 142.7 198.8 143.5 197.6C144.3 196.3 146.0 194.4 147.2 193.0C148.5 191.7 150.4 189.9 151.8 188.5C153.1 187.2 154.8 184.5 156.3 184.0Z" fill="#2b2b2b" stroke="#2b2b2b" stroke-width="3.5" filter="url(#blur1)"/><circle cx="157.8" cy="237.9" r="1.8" fill="#161616" filter="url(#blur1)"/><circle cx="169.5" cy="188.8" r="1.8" fill="#161616" filter="url(#blur1)"/><circle cx="195.4" cy="214.4" r="1.5" fill="#161616" filter="url(#blur1)"/><circle cx="151.8" cy="186.3" r="1.2" fill="#161616" filter="url(#blur1)"/></g></g><g filter="url(#temBp)"><path d="M156.3 184.0C157.7 183.6 160.1 184.8 161.5 185.5C163.0 186.2 164.8 187.7 166.0 188.5C167.3 189.3 168.6 189.9 169.8 190.8C171.0 191.7 172.8 194.2 174.3 194.5C175.8 194.9 178.0 192.7 179.6 193.0C181.2 193.4 183.7 195.3 184.8 196.8C186.0 198.3 187.0 201.2 187.1 202.8C187.2 204.4 185.3 206.4 185.6 207.3C185.9 208.2 188.3 207.8 189.4 208.8C190.4 209.8 191.7 212.0 192.4 214.1C193.0 216.2 194.0 221.2 193.9 223.1C193.7 225.0 192.6 226.1 191.6 226.9C190.6 227.7 187.4 227.3 187.1 228.4C186.8 229.5 188.9 232.6 189.4 234.4C189.8 236.2 190.6 239.4 190.1 240.4C189.7 241.4 187.8 241.2 186.3 241.2C184.9 241.2 181.6 240.1 180.3 240.4C179.1 240.8 178.7 242.4 178.1 243.4C177.4 244.4 176.8 246.7 175.8 247.2C174.8 247.6 172.4 247.2 171.3 246.4C170.2 245.6 169.2 243.0 168.3 241.9C167.4 240.8 166.2 239.7 165.3 238.9C164.3 238.2 162.6 238.0 162.0 237.0C161.4 235.9 161.4 233.9 161.1 232.1C160.8 230.4 160.5 226.5 160.2 225.5C159.9 224.5 159.4 224.3 159.0 225.5C158.6 226.8 158.3 232.3 157.5 233.9C156.6 235.6 154.9 236.4 153.3 236.7C151.6 236.9 148.1 236.5 146.5 235.9C144.9 235.3 143.4 234.2 142.7 232.9C142.1 231.5 142.9 228.7 142.0 226.9C141.1 225.1 137.6 222.3 136.7 220.9C135.8 219.4 135.4 218.5 136.0 217.1C136.5 215.8 139.0 213.2 140.5 211.8C141.9 210.5 144.6 209.3 145.7 208.1C146.9 206.8 148.6 204.6 148.0 203.6C147.4 202.6 142.7 202.2 142.0 201.3C141.3 200.4 142.7 198.8 143.5 197.6C144.3 196.3 146.0 194.4 147.2 193.0C148.5 191.7 150.4 189.9 151.8 188.5C153.1 187.2 154.8 184.5 156.3 184.0Z" fill="#9a9a9a"/><g clip-path="url(#cp2)"><g filter="url(#blur2)"><ellipse cx="154.0" cy="197.6" rx="6.6" ry="5.7" fill="#e2e2e2"/><ellipse cx="166.8" cy="208.8" rx="8.4" ry="6.9" fill="#d8d8d8"/><ellipse cx="147.2" cy="218.6" rx="7.2" ry="6.8" fill="#b6b6b6"/><ellipse cx="151.8" cy="230.6" rx="6.0" ry="4.5" fill="#aaaaaa"/><ellipse cx="177.3" cy="200.6" rx="6.0" ry="5.7" fill="#a8a8a8"/><ellipse cx="187.1" cy="218.6" rx="4.5" ry="6.0" fill="#adadad"/><ellipse cx="172.1" cy="231.4" rx="6.0" ry="5.3" fill="#b2b2b2"/><ellipse cx="180.3" cy="238.2" rx="6.0" ry="3.8" fill="#929292"/><ellipse cx="161.5" cy="191.5" rx="6.0" ry="4.5" fill="#b0b0b0"/></g><g filter="url(#blur1)" stroke="#5c5c5c" stroke-width="2.4" fill="none" stroke-linecap="round"><polyline points="159.3,227.9 167.5,223.9 178.8,218.9 185.1,209.9"/><polyline points="178.8,218.9 186.3,227.6"/><polyline points="164.1,238.2 161.5,232.1 159.7,227.9"/><polyline points="174.3,195.3 174.3,203.6"/></g><path d="M156.3 184.0C157.7 183.6 160.1 184.8 161.5 185.5C163.0 186.2 164.8 187.7 166.0 188.5C167.3 189.3 168.6 189.9 169.8 190.8C171.0 191.7 172.8 194.2 174.3 194.5C175.8 194.9 178.0 192.7 179.6 193.0C181.2 193.4 183.7 195.3 184.8 196.8C186.0 198.3 187.0 201.2 187.1 202.8C187.2 204.4 185.3 206.4 185.6 207.3C185.9 208.2 188.3 207.8 189.4 208.8C190.4 209.8 191.7 212.0 192.4 214.1C193.0 216.2 194.0 221.2 193.9 223.1C193.7 225.0 192.6 226.1 191.6 226.9C190.6 227.7 187.4 227.3 187.1 228.4C186.8 229.5 188.9 232.6 189.4 234.4C189.8 236.2 190.6 239.4 190.1 240.4C189.7 241.4 187.8 241.2 186.3 241.2C184.9 241.2 181.6 240.1 180.3 240.4C179.1 240.8 178.7 242.4 178.1 243.4C177.4 244.4 176.8 246.7 175.8 247.2C174.8 247.6 172.4 247.2 171.3 246.4C170.2 245.6 169.2 243.0 168.3 241.9C167.4 240.8 166.2 239.7 165.3 238.9C164.3 238.2 162.6 238.0 162.0 237.0C161.4 235.9 161.4 233.9 161.1 232.1C160.8 230.4 160.5 226.5 160.2 225.5C159.9 224.5 159.4 224.3 159.0 225.5C158.6 226.8 158.3 232.3 157.5 233.9C156.6 235.6 154.9 236.4 153.3 236.7C151.6 236.9 148.1 236.5 146.5 235.9C144.9 235.3 143.4 234.2 142.7 232.9C142.1 231.5 142.9 228.7 142.0 226.9C141.1 225.1 137.6 222.3 136.7 220.9C135.8 219.4 135.4 218.5 136.0 217.1C136.5 215.8 139.0 213.2 140.5 211.8C141.9 210.5 144.6 209.3 145.7 208.1C146.9 206.8 148.6 204.6 148.0 203.6C147.4 202.6 142.7 202.2 142.0 201.3C141.3 200.4 142.7 198.8 143.5 197.6C144.3 196.3 146.0 194.4 147.2 193.0C148.5 191.7 150.4 189.9 151.8 188.5C153.1 187.2 154.8 184.5 156.3 184.0Z" fill="none" stroke="#7a7a7a" stroke-width="3.4" filter="url(#blur1)"/></g></g><path d="M156.3 184.0C157.7 183.6 160.1 184.8 161.5 185.5C163.0 186.2 164.8 187.7 166.0 188.5C167.3 189.3 168.6 189.9 169.8 190.8C171.0 191.7 172.8 194.2 174.3 194.5C175.8 194.9 178.0 192.7 179.6 193.0C181.2 193.4 183.7 195.3 184.8 196.8C186.0 198.3 187.0 201.2 187.1 202.8C187.2 204.4 185.3 206.4 185.6 207.3C185.9 208.2 188.3 207.8 189.4 208.8C190.4 209.8 191.7 212.0 192.4 214.1C193.0 216.2 194.0 221.2 193.9 223.1C193.7 225.0 192.6 226.1 191.6 226.9C190.6 227.7 187.4 227.3 187.1 228.4C186.8 229.5 188.9 232.6 189.4 234.4C189.8 236.2 190.6 239.4 190.1 240.4C189.7 241.4 187.8 241.2 186.3 241.2C184.9 241.2 181.6 240.1 180.3 240.4C179.1 240.8 178.7 242.4 178.1 243.4C177.4 244.4 176.8 246.7 175.8 247.2C174.8 247.6 172.4 247.2 171.3 246.4C170.2 245.6 169.2 243.0 168.3 241.9C167.4 240.8 166.2 239.7 165.3 238.9C164.3 238.2 162.6 238.0 162.0 237.0C161.4 235.9 161.4 233.9 161.1 232.1C160.8 230.4 160.5 226.5 160.2 225.5C159.9 224.5 159.4 224.3 159.0 225.5C158.6 226.8 158.3 232.3 157.5 233.9C156.6 235.6 154.9 236.4 153.3 236.7C151.6 236.9 148.1 236.5 146.5 235.9C144.9 235.3 143.4 234.2 142.7 232.9C142.1 231.5 142.9 228.7 142.0 226.9C141.1 225.1 137.6 222.3 136.7 220.9C135.8 219.4 135.4 218.5 136.0 217.1C136.5 215.8 139.0 213.2 140.5 211.8C141.9 210.5 144.6 209.3 145.7 208.1C146.9 206.8 148.6 204.6 148.0 203.6C147.4 202.6 142.7 202.2 142.0 201.3C141.3 200.4 142.7 198.8 143.5 197.6C144.3 196.3 146.0 194.4 147.2 193.0C148.5 191.7 150.4 189.9 151.8 188.5C153.1 187.2 154.8 184.5 156.3 184.0Z" fill="#ff2c2c" fill-opacity="0.52" stroke="#ff2c2c" stroke-opacity="0.35" stroke-width="1"/>
<rect x="235.3" y="164.5" width="97.6" height="100.0" fill="#fdff86"/>
<g fill="#5fe08a" opacity="0.85"><circle cx="258.2" cy="259.3" r="0.4"/><circle cx="303.5" cy="174.3" r="0.4"/><circle cx="331.3" cy="186.3" r="0.6"/><circle cx="315.4" cy="174.7" r="0.4"/><circle cx="238.7" cy="191.9" r="0.5"/><circle cx="322.1" cy="202.8" r="0.4"/><circle cx="261.2" cy="262.2" r="0.3"/><circle cx="298.3" cy="253.4" r="0.6"/><circle cx="250.2" cy="172.2" r="0.7"/><circle cx="326.3" cy="222.2" r="0.6"/><circle cx="320.1" cy="193.7" r="0.5"/><circle cx="319.9" cy="179.1" r="0.6"/><circle cx="246.0" cy="232.9" r="0.6"/><circle cx="326.7" cy="247.8" r="0.5"/><circle cx="255.5" cy="180.6" r="0.5"/><circle cx="285.0" cy="172.9" r="0.7"/><circle cx="237.9" cy="199.3" r="0.4"/><circle cx="315.7" cy="252.5" r="0.4"/><circle cx="299.5" cy="260.6" r="0.4"/><circle cx="309.3" cy="195.1" r="0.3"/><circle cx="309.1" cy="199.2" r="0.4"/><circle cx="264.1" cy="175.2" r="0.3"/><circle cx="329.5" cy="172.1" r="0.3"/><circle cx="270.0" cy="259.6" r="0.3"/><circle cx="315.9" cy="186.4" r="0.7"/><circle cx="239.9" cy="259.6" r="0.6"/><circle cx="330.5" cy="222.3" r="0.4"/><circle cx="328.5" cy="208.8" r="0.3"/><circle cx="279.6" cy="178.3" r="0.5"/><circle cx="305.4" cy="235.4" r="0.5"/><circle cx="279.0" cy="176.5" r="0.6"/><circle cx="238.9" cy="201.3" r="0.5"/><circle cx="245.6" cy="259.9" r="0.6"/><circle cx="298.0" cy="166.6" r="0.6"/><circle cx="322.8" cy="238.1" r="0.7"/><circle cx="329.7" cy="187.7" r="0.4"/><circle cx="288.6" cy="260.7" r="0.5"/><circle cx="325.9" cy="248.5" r="0.5"/><circle cx="295.9" cy="258.8" r="0.7"/><circle cx="327.5" cy="248.2" r="0.4"/><circle cx="316.5" cy="232.4" r="0.7"/><circle cx="305.7" cy="245.6" r="0.6"/><circle cx="316.1" cy="192.1" r="0.3"/><circle cx="306.2" cy="192.3" r="0.5"/><circle cx="247.9" cy="246.4" r="0.4"/><circle cx="320.8" cy="205.9" r="0.5"/><circle cx="328.1" cy="242.6" r="0.6"/><circle cx="311.9" cy="203.6" r="0.6"/><circle cx="310.6" cy="262.3" r="0.7"/><circle cx="311.2" cy="179.3" r="0.6"/><circle cx="301.6" cy="174.4" r="0.5"/><circle cx="319.0" cy="253.8" r="0.7"/><circle cx="318.6" cy="229.3" r="0.4"/><circle cx="240.5" cy="255.2" r="0.7"/><circle cx="315.2" cy="245.0" r="0.6"/><circle cx="247.6" cy="236.0" r="0.5"/><circle cx="310.8" cy="175.7" r="0.4"/><circle cx="307.7" cy="176.6" r="0.3"/><circle cx="314.9" cy="220.3" r="0.4"/><circle cx="320.2" cy="237.4" r="0.5"/><circle cx="290.0" cy="256.8" r="0.7"/><circle cx="324.9" cy="178.9" r="0.4"/><circle cx="308.9" cy="171.9" r="0.7"/><circle cx="276.0" cy="256.8" r="0.6"/><circle cx="321.6" cy="255.5" r="0.6"/><circle cx="329.8" cy="213.5" r="0.5"/><circle cx="316.6" cy="217.2" r="0.4"/><circle cx="248.9" cy="247.3" r="0.5"/><circle cx="328.7" cy="217.8" r="0.7"/><circle cx="314.8" cy="228.8" r="0.4"/><circle cx="274.1" cy="169.4" r="0.5"/><circle cx="326.2" cy="199.7" r="0.6"/><circle cx="295.6" cy="179.9" r="0.6"/><circle cx="244.3" cy="183.9" r="0.6"/><circle cx="248.9" cy="259.6" r="0.5"/><circle cx="296.4" cy="259.6" r="0.3"/><circle cx="331.3" cy="169.8" r="0.6"/><circle cx="298.9" cy="261.6" r="0.5"/><circle cx="326.4" cy="229.1" r="0.5"/><circle cx="252.9" cy="188.9" r="0.5"/><circle cx="313.2" cy="202.4" r="0.6"/><circle cx="240.4" cy="179.6" r="0.6"/><circle cx="321.0" cy="196.4" r="0.3"/><circle cx="311.1" cy="242.0" r="0.6"/><circle cx="316.4" cy="194.1" r="0.7"/><circle cx="253.2" cy="180.2" r="0.7"/><circle cx="245.2" cy="242.9" r="0.6"/><circle cx="260.8" cy="251.5" r="0.4"/><circle cx="247.7" cy="169.5" r="0.6"/><circle cx="329.2" cy="237.4" r="0.6"/><circle cx="237.8" cy="244.8" r="0.4"/><circle cx="317.6" cy="206.2" r="0.7"/><circle cx="236.8" cy="261.1" r="0.3"/><circle cx="330.1" cy="235.5" r="0.7"/><circle cx="322.5" cy="207.2" r="0.4"/><circle cx="326.8" cy="230.5" r="0.5"/><circle cx="255.6" cy="168.7" r="0.3"/><circle cx="254.7" cy="244.3" r="0.6"/><circle cx="318.8" cy="241.7" r="0.5"/><circle cx="298.6" cy="174.0" r="0.5"/><circle cx="284.7" cy="251.9" r="0.6"/><circle cx="322.8" cy="250.3" r="0.7"/><circle cx="312.2" cy="225.2" r="0.4"/><circle cx="278.9" cy="262.3" r="0.4"/><circle cx="316.3" cy="255.4" r="0.5"/><circle cx="309.5" cy="177.5" r="0.5"/><circle cx="317.9" cy="230.5" r="0.5"/><circle cx="288.6" cy="251.8" r="0.7"/><circle cx="326.2" cy="224.9" r="0.5"/><circle cx="247.6" cy="262.9" r="0.4"/><circle cx="296.5" cy="173.2" r="0.5"/><circle cx="296.3" cy="260.1" r="0.7"/><circle cx="308.9" cy="251.3" r="0.5"/><circle cx="251.9" cy="177.4" r="0.7"/><circle cx="323.4" cy="237.4" r="0.6"/><circle cx="326.9" cy="226.5" r="0.5"/><circle cx="254.1" cy="181.5" r="0.7"/><circle cx="321.6" cy="200.6" r="0.5"/><circle cx="262.8" cy="254.4" r="0.5"/><circle cx="246.4" cy="178.0" r="0.4"/><circle cx="309.4" cy="168.9" r="0.5"/></g>
<clipPath id="cp3"><path d="M267.1 184.0C268.5 183.6 270.9 184.8 272.3 185.5C273.8 186.2 275.6 187.7 276.8 188.5C278.1 189.3 279.4 189.9 280.6 190.8C281.8 191.7 283.6 194.2 285.1 194.5C286.6 194.9 288.8 192.7 290.4 193.0C292.0 193.4 294.5 195.3 295.6 196.8C296.8 198.3 297.8 201.2 297.9 202.8C298.0 204.4 296.1 206.4 296.4 207.3C296.7 208.2 299.1 207.8 300.2 208.8C301.2 209.8 302.5 212.0 303.2 214.1C303.8 216.2 304.8 221.2 304.7 223.1C304.5 225.0 303.4 226.1 302.4 226.9C301.4 227.7 298.2 227.3 297.9 228.4C297.6 229.5 299.7 232.6 300.2 234.4C300.6 236.2 301.4 239.4 300.9 240.4C300.5 241.4 298.6 241.2 297.1 241.2C295.7 241.2 292.4 240.1 291.1 240.4C289.9 240.8 289.5 242.4 288.9 243.4C288.2 244.4 287.6 246.7 286.6 247.2C285.6 247.6 283.2 247.2 282.1 246.4C281.0 245.6 280.0 243.0 279.1 241.9C278.2 240.8 277.0 239.7 276.1 238.9C275.1 238.2 273.4 238.0 272.8 237.0C272.2 235.9 272.2 233.9 271.9 232.1C271.6 230.4 271.3 226.5 271.0 225.5C270.7 224.5 270.2 224.3 269.8 225.5C269.4 226.8 269.1 232.3 268.3 233.9C267.4 235.6 265.7 236.4 264.1 236.7C262.4 236.9 258.9 236.5 257.3 235.9C255.7 235.3 254.2 234.2 253.5 232.9C252.9 231.5 253.7 228.7 252.8 226.9C251.9 225.1 248.4 222.3 247.5 220.9C246.6 219.4 246.2 218.5 246.8 217.1C247.3 215.8 249.8 213.2 251.3 211.8C252.7 210.5 255.4 209.3 256.5 208.1C257.7 206.8 259.4 204.6 258.8 203.6C258.2 202.6 253.5 202.2 252.8 201.3C252.1 200.4 253.5 198.8 254.3 197.6C255.1 196.3 256.8 194.4 258.0 193.0C259.3 191.7 261.2 189.9 262.6 188.5C263.9 187.2 265.6 184.5 267.1 184.0Z"/></clipPath>
<filter id="heatB" x="-10%" y="-10%" width="120%" height="120%" color-interpolation-filters="sRGB">
  <feTurbulence type="fractalNoise" baseFrequency="0.2" numOctaves="3" seed="33" result="t"/>
  <feDisplacementMap in="SourceGraphic" in2="t" scale="3" xChannelSelector="R" yChannelSelector="G" result="d"/>
  <feColorMatrix in="t" type="matrix" values="0 0 1 0 0  0 0 1 0 0  0 0 1 0 0  0 0 0 0 1" result="n"/>
  <feComposite in="d" in2="n" operator="arithmetic" k1="0" k2="1" k3="0.8" k4="-0.4" result="h"/>
  <feComponentTransfer in="h" result="c">
    <feFuncR type="table" tableValues="0.078 0.235 0.510 0.804 1.000 1.000 1.000 1.000 1.000 0.980 0.933"/>
    <feFuncG type="table" tableValues="0.871 0.910 0.949 0.973 0.965 0.839 0.698 0.549 0.392 0.243 0.133"/>
    <feFuncB type="table" tableValues="0.376 0.282 0.227 0.243 0.282 0.212 0.157 0.118 0.094 0.078 0.071"/>
  </feComponentTransfer>
  <feComposite in="c" in2="d" operator="in"/>
</filter>
<g filter="url(#heatB)"><path d="M267.1 184.0C268.5 183.6 270.9 184.8 272.3 185.5C273.8 186.2 275.6 187.7 276.8 188.5C278.1 189.3 279.4 189.9 280.6 190.8C281.8 191.7 283.6 194.2 285.1 194.5C286.6 194.9 288.8 192.7 290.4 193.0C292.0 193.4 294.5 195.3 295.6 196.8C296.8 198.3 297.8 201.2 297.9 202.8C298.0 204.4 296.1 206.4 296.4 207.3C296.7 208.2 299.1 207.8 300.2 208.8C301.2 209.8 302.5 212.0 303.2 214.1C303.8 216.2 304.8 221.2 304.7 223.1C304.5 225.0 303.4 226.1 302.4 226.9C301.4 227.7 298.2 227.3 297.9 228.4C297.6 229.5 299.7 232.6 300.2 234.4C300.6 236.2 301.4 239.4 300.9 240.4C300.5 241.4 298.6 241.2 297.1 241.2C295.7 241.2 292.4 240.1 291.1 240.4C289.9 240.8 289.5 242.4 288.9 243.4C288.2 244.4 287.6 246.7 286.6 247.2C285.6 247.6 283.2 247.2 282.1 246.4C281.0 245.6 280.0 243.0 279.1 241.9C278.2 240.8 277.0 239.7 276.1 238.9C275.1 238.2 273.4 238.0 272.8 237.0C272.2 235.9 272.2 233.9 271.9 232.1C271.6 230.4 271.3 226.5 271.0 225.5C270.7 224.5 270.2 224.3 269.8 225.5C269.4 226.8 269.1 232.3 268.3 233.9C267.4 235.6 265.7 236.4 264.1 236.7C262.4 236.9 258.9 236.5 257.3 235.9C255.7 235.3 254.2 234.2 253.5 232.9C252.9 231.5 253.7 228.7 252.8 226.9C251.9 225.1 248.4 222.3 247.5 220.9C246.6 219.4 246.2 218.5 246.8 217.1C247.3 215.8 249.8 213.2 251.3 211.8C252.7 210.5 255.4 209.3 256.5 208.1C257.7 206.8 259.4 204.6 258.8 203.6C258.2 202.6 253.5 202.2 252.8 201.3C252.1 200.4 253.5 198.8 254.3 197.6C255.1 196.3 256.8 194.4 258.0 193.0C259.3 191.7 261.2 189.9 262.6 188.5C263.9 187.2 265.6 184.5 267.1 184.0Z" fill="#626262" stroke="#000000" stroke-width="2.6"/><g clip-path="url(#cp3)"><g filter="url(#blur2)"><path d="M267.1 184.0C268.5 183.6 270.9 184.8 272.3 185.5C273.8 186.2 275.6 187.7 276.8 188.5C278.1 189.3 279.4 189.9 280.6 190.8C281.8 191.7 283.6 194.2 285.1 194.5C286.6 194.9 288.8 192.7 290.4 193.0C292.0 193.4 294.5 195.3 295.6 196.8C296.8 198.3 297.8 201.2 297.9 202.8C298.0 204.4 296.1 206.4 296.4 207.3C296.7 208.2 299.1 207.8 300.2 208.8C301.2 209.8 302.5 212.0 303.2 214.1C303.8 216.2 304.8 221.2 304.7 223.1C304.5 225.0 303.4 226.1 302.4 226.9C301.4 227.7 298.2 227.3 297.9 228.4C297.6 229.5 299.7 232.6 300.2 234.4C300.6 236.2 301.4 239.4 300.9 240.4C300.5 241.4 298.6 241.2 297.1 241.2C295.7 241.2 292.4 240.1 291.1 240.4C289.9 240.8 289.5 242.4 288.9 243.4C288.2 244.4 287.6 246.7 286.6 247.2C285.6 247.6 283.2 247.2 282.1 246.4C281.0 245.6 280.0 243.0 279.1 241.9C278.2 240.8 277.0 239.7 276.1 238.9C275.1 238.2 273.4 238.0 272.8 237.0C272.2 235.9 272.2 233.9 271.9 232.1C271.6 230.4 271.3 226.5 271.0 225.5C270.7 224.5 270.2 224.3 269.8 225.5C269.4 226.8 269.1 232.3 268.3 233.9C267.4 235.6 265.7 236.4 264.1 236.7C262.4 236.9 258.9 236.5 257.3 235.9C255.7 235.3 254.2 234.2 253.5 232.9C252.9 231.5 253.7 228.7 252.8 226.9C251.9 225.1 248.4 222.3 247.5 220.9C246.6 219.4 246.2 218.5 246.8 217.1C247.3 215.8 249.8 213.2 251.3 211.8C252.7 210.5 255.4 209.3 256.5 208.1C257.7 206.8 259.4 204.6 258.8 203.6C258.2 202.6 253.5 202.2 252.8 201.3C252.1 200.4 253.5 198.8 254.3 197.6C255.1 196.3 256.8 194.4 258.0 193.0C259.3 191.7 261.2 189.9 262.6 188.5C263.9 187.2 265.6 184.5 267.1 184.0Z" fill="#a0a0a0" transform="translate(277.0 215.0) scale(0.8) translate(-277.0 -215.0)"/><ellipse cx="262.9" cy="198.6" rx="8.5" ry="5.6" fill="#ececec"/><ellipse cx="275.2" cy="212.9" rx="12.8" ry="6.5" fill="#e4e4e4"/><ellipse cx="272.7" cy="215.0" rx="5.6" ry="3.3" fill="#f0f0f0"/><ellipse cx="280.1" cy="198.2" rx="2.9" ry="5.2" fill="#e0e0e0"/><ellipse cx="286.2" cy="203.6" rx="4.3" ry="4.9" fill="#d4d4d4"/><ellipse cx="258.0" cy="222.4" rx="6.9" ry="6.9" fill="#bcbcbc"/><ellipse cx="261.3" cy="232.2" rx="4.6" ry="3.3" fill="#cecece"/><ellipse cx="281.7" cy="233.0" rx="4.3" ry="6.2" fill="#e4e4e4"/><ellipse cx="287.1" cy="238.4" rx="3.6" ry="3.3" fill="#e6e6e6"/><ellipse cx="299.7" cy="219.9" rx="2.8" ry="4.6" fill="#e2e2e2"/><ellipse cx="271.1" cy="194.5" rx="3.6" ry="3.6" fill="#c0c0c0"/></g><g filter="url(#blur1)" stroke="#585858" stroke-width="2" fill="none" stroke-linecap="round"><polyline points="272.7,226.5 282.6,222.0 294.0,211.7 296.5,209.3"/><polyline points="293.2,223.2 299.2,231.4"/><polyline points="292.4,197.8 292.7,202.7"/><polyline points="272.7,226.5 274.0,235.5"/></g></g></g>
<rect x="336.0" y="163.7" width="7.4" height="100.0" fill="url(#cbar)"/>
<rect x="485.9" y="159.2" width="3.6" height="100.8" fill="url(#cbar)"/>
<g fill="url(#gHist)"><rect x="343.5" y="167.00" width="1.6" height="0.55"/><rect x="343.5" y="168.00" width="2.5" height="0.55"/><rect x="343.5" y="169.00" width="3.0" height="0.55"/><rect x="343.5" y="170.00" width="3.9" height="0.55"/><rect x="343.5" y="171.00" width="4.7" height="0.55"/><rect x="343.5" y="172.00" width="4.3" height="0.55"/><rect x="343.5" y="173.00" width="4.7" height="0.55"/><rect x="343.5" y="174.00" width="7.3" height="0.55"/><rect x="343.5" y="175.00" width="6.5" height="0.55"/><rect x="343.5" y="176.00" width="6.9" height="0.55"/><rect x="343.5" y="177.00" width="9.9" height="0.55"/><rect x="343.5" y="178.00" width="8.8" height="0.55"/><rect x="343.5" y="179.00" width="10.7" height="0.55"/><rect x="343.5" y="180.00" width="10.0" height="0.55"/><rect x="343.5" y="181.00" width="11.2" height="0.55"/><rect x="343.5" y="182.00" width="10.5" height="0.55"/><rect x="343.5" y="183.00" width="14.2" height="0.55"/><rect x="343.5" y="184.00" width="17.1" height="0.55"/><rect x="343.5" y="185.00" width="16.5" height="0.55"/><rect x="343.5" y="186.00" width="19.4" height="0.55"/><rect x="343.5" y="187.00" width="20.1" height="0.55"/><rect x="343.5" y="188.00" width="16.6" height="0.55"/><rect x="343.5" y="189.00" width="23.0" height="0.55"/><rect x="343.5" y="190.00" width="20.1" height="0.55"/><rect x="343.5" y="191.00" width="16.7" height="0.55"/><rect x="343.5" y="192.00" width="13.6" height="0.55"/><rect x="343.5" y="193.00" width="17.2" height="0.55"/><rect x="343.5" y="194.00" width="14.4" height="0.55"/><rect x="343.5" y="195.00" width="15.2" height="0.55"/><rect x="343.5" y="196.00" width="15.5" height="0.55"/><rect x="343.5" y="197.00" width="14.1" height="0.55"/><rect x="343.5" y="198.00" width="14.5" height="0.55"/><rect x="343.5" y="199.00" width="11.8" height="0.55"/><rect x="343.5" y="200.00" width="13.6" height="0.55"/><rect x="343.5" y="201.00" width="11.8" height="0.55"/><rect x="343.5" y="202.00" width="13.9" height="0.55"/><rect x="343.5" y="203.00" width="13.5" height="0.55"/><rect x="343.5" y="204.00" width="9.9" height="0.55"/><rect x="343.5" y="205.00" width="10.0" height="0.55"/><rect x="343.5" y="206.00" width="10.0" height="0.55"/><rect x="343.5" y="207.00" width="12.7" height="0.55"/><rect x="343.5" y="208.00" width="10.2" height="0.55"/><rect x="343.5" y="209.00" width="10.5" height="0.55"/><rect x="343.5" y="210.00" width="8.9" height="0.55"/><rect x="343.5" y="211.00" width="9.3" height="0.55"/><rect x="343.5" y="212.00" width="8.5" height="0.55"/><rect x="343.5" y="213.00" width="8.2" height="0.55"/><rect x="343.5" y="214.00" width="8.7" height="0.55"/><rect x="343.5" y="215.00" width="8.5" height="0.55"/><rect x="343.5" y="216.00" width="9.2" height="0.55"/><rect x="343.5" y="217.00" width="8.3" height="0.55"/><rect x="343.5" y="218.00" width="8.8" height="0.55"/><rect x="343.5" y="219.00" width="8.3" height="0.55"/><rect x="343.5" y="220.00" width="8.5" height="0.55"/><rect x="343.5" y="221.00" width="7.5" height="0.55"/><rect x="343.5" y="222.00" width="6.0" height="0.55"/><rect x="343.5" y="223.00" width="7.7" height="0.55"/><rect x="343.5" y="224.00" width="7.9" height="0.55"/><rect x="343.5" y="225.00" width="7.6" height="0.55"/><rect x="343.5" y="226.00" width="6.6" height="0.55"/><rect x="343.5" y="227.00" width="6.9" height="0.55"/><rect x="343.5" y="228.00" width="5.5" height="0.55"/><rect x="343.5" y="229.25" width="9.0" height="0.55"/><rect x="343.5" y="230.50" width="10.1" height="0.55"/><rect x="343.5" y="231.50" width="5.7" height="0.55"/><rect x="343.5" y="232.50" width="2.2" height="0.55"/></g>
<g font-size="5.5"><rect x="343.2" y="263.45" width="0.8" height="0.5" fill="#777"/><rect x="343.2" y="258.41" width="0.8" height="0.5" fill="#777"/><rect x="343.2" y="253.37" width="0.8" height="0.5" fill="#777"/><rect x="343.2" y="248.33" width="0.8" height="0.5" fill="#777"/><rect x="343.2" y="243.29" width="0.8" height="0.5" fill="#777"/><rect x="343.2" y="238.25" width="0.8" height="0.5" fill="#777"/><rect x="343.2" y="233.21" width="0.8" height="0.5" fill="#777"/><rect x="343.2" y="228.17" width="0.8" height="0.5" fill="#777"/><rect x="343.2" y="223.13" width="0.8" height="0.5" fill="#777"/><rect x="343.2" y="218.09" width="0.8" height="0.5" fill="#777"/><rect x="343.2" y="213.05" width="0.8" height="0.5" fill="#777"/><rect x="343.2" y="208.01" width="0.8" height="0.5" fill="#777"/><rect x="343.2" y="202.97" width="0.8" height="0.5" fill="#777"/><rect x="343.2" y="197.93" width="0.8" height="0.5" fill="#777"/><rect x="343.2" y="192.89" width="0.8" height="0.5" fill="#777"/><rect x="343.2" y="187.85" width="0.8" height="0.5" fill="#777"/><rect x="343.2" y="182.81" width="0.8" height="0.5" fill="#777"/><rect x="343.2" y="177.77" width="0.8" height="0.5" fill="#777"/><rect x="343.4" y="263.40" width="1.8" height="0.6" fill="#444"/><text x="347.5" y="265.6" style="fill:#3c3c3c">0</text><rect x="343.4" y="238.20" width="1.8" height="0.6" fill="#444"/><text x="347.5" y="240.4" style="fill:#3c3c3c">50</text><rect x="343.4" y="213.00" width="1.8" height="0.6" fill="#444"/><text x="347.5" y="215.2" style="fill:#3c3c3c">100</text><rect x="343.4" y="187.80" width="1.8" height="0.6" fill="#444"/><text x="347.5" y="190.0" style="fill:#3c3c3c">150</text></g>
<path d="M391.1 223.4C391.3 220.1 392.6 217.6 394.3 213.6C396.0 209.7 397.6 204.6 399.7 203.6C401.7 202.7 402.5 208.6 404.6 208.8C406.8 209.1 408.2 205.4 410.4 204.9C412.7 204.5 414.1 207.8 415.8 206.7C417.5 205.5 417.1 199.6 419.0 199.3C421.0 198.9 422.7 202.8 425.5 204.9C428.3 207.0 430.7 209.3 433.0 209.7C435.3 210.1 434.4 208.1 436.9 207.1C439.4 206.1 442.8 203.8 445.5 204.9C448.1 206.0 448.4 209.5 450.2 212.5C452.0 215.6 453.0 217.5 454.5 220.1C456.0 222.7 457.7 224.0 457.7 225.6C457.7 227.1 456.7 226.9 454.5 227.7C452.4 228.6 448.5 228.6 447.0 229.9C445.5 231.2 448.5 232.9 447.0 234.2C445.5 235.5 441.8 235.3 439.5 236.4C437.1 237.5 437.3 238.8 435.2 239.7C433.0 240.5 431.3 240.1 428.7 240.8C426.1 241.4 424.8 242.9 422.2 242.9C419.7 242.9 418.2 242.1 415.8 240.8C413.4 239.5 412.6 237.7 410.4 236.4C408.3 235.1 407.4 235.1 405.0 234.2C402.7 233.4 401.0 232.9 398.6 232.1C396.2 231.2 394.7 231.6 393.2 229.9C391.7 228.2 390.8 226.6 391.1 223.4Z" fill="#d6d6d6" filter="url(#blur1)"/>
<g stroke="#dcdcdc" stroke-width="0.7"><line x1="367.2" y1="209.5" x2="367.2" y2="216.6"/><line x1="463.8" y1="188.0" x2="463.8" y2="197.3"/><line x1="374.1" y1="230.7" x2="374.1" y2="238.1"/><line x1="409.7" y1="241.3" x2="409.7" y2="247.4"/><line x1="372.6" y1="246.2" x2="372.6" y2="254.3"/><line x1="375.8" y1="251.1" x2="375.8" y2="260.9"/><line x1="378.2" y1="212.8" x2="378.2" y2="219.3"/><line x1="383.7" y1="231.4" x2="383.7" y2="237.6"/><line x1="384.5" y1="239.5" x2="384.5" y2="247.1"/><line x1="369.3" y1="233.4" x2="369.3" y2="243.3"/><line x1="471.4" y1="229.1" x2="471.4" y2="236.5"/><line x1="421.2" y1="239.1" x2="421.2" y2="247.1"/><line x1="369.0" y1="239.9" x2="369.0" y2="247.7"/><line x1="441.2" y1="186.5" x2="441.2" y2="193.6"/><line x1="371.6" y1="215.2" x2="371.6" y2="222.1"/><line x1="469.5" y1="216.7" x2="469.5" y2="226.5"/><line x1="384.1" y1="246.8" x2="384.1" y2="254.3"/><line x1="464.5" y1="184.5" x2="464.5" y2="191.5"/><line x1="392.1" y1="184.6" x2="392.1" y2="190.7"/><line x1="432.9" y1="250.9" x2="432.9" y2="260.9"/><line x1="420.4" y1="185.6" x2="420.4" y2="192.9"/><line x1="451.0" y1="240.6" x2="451.0" y2="249.1"/><line x1="394.4" y1="248.4" x2="394.4" y2="258.0"/><line x1="383.5" y1="203.8" x2="383.5" y2="213.3"/><line x1="396.1" y1="248.2" x2="396.1" y2="256.2"/><line x1="461.7" y1="212.6" x2="461.7" y2="219.5"/><line x1="413.0" y1="250.6" x2="413.0" y2="258.8"/><line x1="433.5" y1="246.6" x2="433.5" y2="256.4"/><line x1="429.6" y1="245.3" x2="429.6" y2="254.4"/><line x1="426.8" y1="185.2" x2="426.8" y2="194.0"/><line x1="463.6" y1="238.2" x2="463.6" y2="247.8"/><line x1="464.3" y1="220.4" x2="464.3" y2="229.5"/><line x1="466.9" y1="230.9" x2="466.9" y2="239.0"/><line x1="375.8" y1="205.2" x2="375.8" y2="214.0"/><line x1="466.9" y1="208.9" x2="466.9" y2="215.0"/><line x1="385.4" y1="229.4" x2="385.4" y2="236.7"/><line x1="467.9" y1="184.5" x2="467.9" y2="192.0"/><line x1="465.2" y1="218.1" x2="465.2" y2="226.9"/><line x1="383.5" y1="215.6" x2="383.5" y2="224.0"/><line x1="415.6" y1="242.1" x2="415.6" y2="251.5"/></g><g fill="#7fd8c8"><circle cx="378.2" cy="212.8" r="0.55"/><circle cx="383.7" cy="231.4" r="0.55"/><circle cx="421.2" cy="239.1" r="0.55"/><circle cx="369.0" cy="239.9" r="0.55"/><circle cx="441.2" cy="186.5" r="0.55"/><circle cx="371.6" cy="215.2" r="0.55"/><circle cx="469.5" cy="216.7" r="0.55"/><circle cx="384.1" cy="246.8" r="0.55"/><circle cx="464.5" cy="184.5" r="0.55"/><circle cx="392.1" cy="184.6" r="0.55"/><circle cx="451.0" cy="240.6" r="0.55"/><circle cx="383.5" cy="203.8" r="0.55"/><circle cx="461.7" cy="212.6" r="0.55"/><circle cx="413.0" cy="250.6" r="0.55"/><circle cx="429.6" cy="245.3" r="0.55"/><circle cx="426.8" cy="185.2" r="0.55"/><circle cx="466.9" cy="230.9" r="0.55"/><circle cx="466.9" cy="208.9" r="0.55"/><circle cx="467.9" cy="184.5" r="0.55"/></g>
<clipPath id="cp4"><path d="M389.6 213.9C389.7 211.6 391.6 206.9 392.8 204.1C394.0 201.4 396.7 194.8 398.2 194.1C399.6 193.5 401.6 199.2 403.1 199.3C404.6 199.5 407.4 195.7 408.9 195.4C410.5 195.1 413.1 198.0 414.3 197.2C415.5 196.4 416.2 190.0 417.5 189.8C418.9 189.5 422.0 194.0 424.0 195.4C425.9 196.9 429.9 199.9 431.5 200.2C433.1 200.5 433.6 198.3 435.4 197.6C437.1 196.9 442.1 194.7 444.0 195.4C445.8 196.2 447.4 200.9 448.7 203.0C450.0 205.2 452.0 208.8 453.0 210.6C454.1 212.5 456.2 215.0 456.2 216.1C456.2 217.1 454.5 217.6 453.0 218.2C451.5 218.8 446.5 219.5 445.5 220.4C444.4 221.3 446.5 223.8 445.5 224.7C444.4 225.7 439.6 226.2 438.0 226.9C436.3 227.7 435.2 229.6 433.7 230.2C432.1 230.8 429.0 230.8 427.2 231.3C425.4 231.7 422.6 233.4 420.7 233.4C418.9 233.4 416.0 232.2 414.3 231.3C412.6 230.3 410.4 227.8 408.9 226.9C407.4 226.0 405.2 225.4 403.5 224.7C401.9 224.1 398.7 223.2 397.1 222.6C395.4 222.0 392.8 221.6 391.7 220.4C390.7 219.2 389.4 216.2 389.6 213.9Z"/></clipPath><g filter="url(#surfB)"><path d="M389.6 213.9C389.7 211.6 391.6 206.9 392.8 204.1C394.0 201.4 396.7 194.8 398.2 194.1C399.6 193.5 401.6 199.2 403.1 199.3C404.6 199.5 407.4 195.7 408.9 195.4C410.5 195.1 413.1 198.0 414.3 197.2C415.5 196.4 416.2 190.0 417.5 189.8C418.9 189.5 422.0 194.0 424.0 195.4C425.9 196.9 429.9 199.9 431.5 200.2C433.1 200.5 433.6 198.3 435.4 197.6C437.1 196.9 442.1 194.7 444.0 195.4C445.8 196.2 447.4 200.9 448.7 203.0C450.0 205.2 452.0 208.8 453.0 210.6C454.1 212.5 456.2 215.0 456.2 216.1C456.2 217.1 454.5 217.6 453.0 218.2C451.5 218.8 446.5 219.5 445.5 220.4C444.4 221.3 446.5 223.8 445.5 224.7C444.4 225.7 439.6 226.2 438.0 226.9C436.3 227.7 435.2 229.6 433.7 230.2C432.1 230.8 429.0 230.8 427.2 231.3C425.4 231.7 422.6 233.4 420.7 233.4C418.9 233.4 416.0 232.2 414.3 231.3C412.6 230.3 410.4 227.8 408.9 226.9C407.4 226.0 405.2 225.4 403.5 224.7C401.9 224.1 398.7 223.2 397.1 222.6C395.4 222.0 392.8 221.6 391.7 220.4C390.7 219.2 389.4 216.2 389.6 213.9Z" fill="#000000"/><g clip-path="url(#cp4)"><g filter="url(#blur1)"><path d="M389.6 213.9C389.7 211.6 391.6 206.9 392.8 204.1C394.0 201.4 396.7 194.8 398.2 194.1C399.6 193.5 401.6 199.2 403.1 199.3C404.6 199.5 407.4 195.7 408.9 195.4C410.5 195.1 413.1 198.0 414.3 197.2C415.5 196.4 416.2 190.0 417.5 189.8C418.9 189.5 422.0 194.0 424.0 195.4C425.9 196.9 429.9 199.9 431.5 200.2C433.1 200.5 433.6 198.3 435.4 197.6C437.1 196.9 442.1 194.7 444.0 195.4C445.8 196.2 447.4 200.9 448.7 203.0C450.0 205.2 452.0 208.8 453.0 210.6C454.1 212.5 456.2 215.0 456.2 216.1C456.2 217.1 454.5 217.6 453.0 218.2C451.5 218.8 446.5 219.5 445.5 220.4C444.4 221.3 446.5 223.8 445.5 224.7C444.4 225.7 439.6 226.2 438.0 226.9C436.3 227.7 435.2 229.6 433.7 230.2C432.1 230.8 429.0 230.8 427.2 231.3C425.4 231.7 422.6 233.4 420.7 233.4C418.9 233.4 416.0 232.2 414.3 231.3C412.6 230.3 410.4 227.8 408.9 226.9C407.4 226.0 405.2 225.4 403.5 224.7C401.9 224.1 398.7 223.2 397.1 222.6C395.4 222.0 392.8 221.6 391.7 220.4C390.7 219.2 389.4 216.2 389.6 213.9Z" fill="url(#gF3D)" transform="translate(0 -4.6)"/></g><g filter="url(#blur2)"><ellipse cx="399.1" cy="200.3" rx="3.3" ry="3.7" fill="#e2e2e2"/><ellipse cx="417.7" cy="197.6" rx="4.5" ry="5.4" fill="#e6e6e6"/><ellipse cx="423.9" cy="207.9" rx="11.6" ry="7.4" fill="#ececec"/><ellipse cx="441.9" cy="201.9" rx="5.0" ry="3.3" fill="#d6d6d6"/><ellipse cx="409.5" cy="205.8" rx="6.2" ry="5.0" fill="#c4c4c4"/><ellipse cx="433.2" cy="204.8" rx="6.2" ry="4.1" fill="#d0d0d0"/></g></g></g>
<g class="b" font-size="14.2"><text class="b" x="5.6" y="14.2">(a)</text><text class="b" x="4.4" y="156.9">(b)</text><text class="b" x="4.8" y="297.8">(c)</text></g>
<g class="b" font-size="12.8" text-anchor="middle" letter-spacing="0.5"><text class="b" x="63.8" y="19">I</text><text class="b" x="178.3" y="19">II</text><text class="b" x="290.2" y="19">III</text><text class="b" x="424.7" y="19">IV</text><text class="b" x="60.3" y="161.2">I</text><text class="b" x="175.3" y="161.2">II</text><text class="b" x="287.0" y="161.2">III</text><text class="b" x="421.9" y="161.2">IV</text></g>
<g stroke="#3a3a3a" stroke-width="0.9" fill="none"><line x1="77.8" y1="133.6" x2="110.1" y2="133.6"/><line x1="77.8" y1="130.3" x2="77.8" y2="137.1"/><line x1="110.1" y1="130.3" x2="110.1" y2="137.1"/></g><text x="93.4" y="142.5" font-size="8.5" text-anchor="middle" style="fill:#1a1a1a">20 nm</text>
<g stroke="#3a3a3a" stroke-width="0.9" fill="none"><line x1="77.8" y1="270.1" x2="110.4" y2="270.1"/><line x1="77.8" y1="265.5" x2="77.8" y2="274.8"/><line x1="110.4" y1="265.5" x2="110.4" y2="274.8"/></g><text x="95.5" y="278.5" font-size="8.5" text-anchor="middle" style="fill:#1a1a1a">30 nm</text>
<path d="M69.60 511.80V485.50H112.41V432.90H155.22V380.30H198.03V446.05H240.84V472.35H283.65V498.65H326.46V485.50H369.27V511.80Z" fill="#ff879d"/><path d="M454.89 511.80V498.65H497.70V511.80Z" fill="#ff879d"/><path d="M207.20 511.80V485.50H241.90V406.60H276.50V314.55H310.90V446.05H345.30V511.80Z" fill="#73b8db"/>
<path d="M207.20 511.80V485.50H240.84V485.50H241.90V472.35H276.50V472.35H283.65V498.65H310.90V498.65H326.46V485.50H345.30V511.80Z" fill="#8a7fad"/>
<line x1="203.6" y1="304.5" x2="203.6" y2="511.5" stroke="#f5365c" stroke-width="1.3" stroke-dasharray="3.6 1.6"/>
<line x1="284.3" y1="304.5" x2="284.3" y2="511.5" stroke="#1e88c8" stroke-width="1.3" stroke-dasharray="3.6 1.6"/>
<g stroke="#bdbdbd" stroke-width="1" fill="none"><line x1="48.4" y1="304.8" x2="48.4" y2="512"/><line x1="47.9" y1="511.6" x2="519.4" y2="511.6"/><line x1="46.6" y1="511.8" x2="48.4" y2="511.8"/><line x1="46.6" y1="485.5" x2="48.4" y2="485.5"/><line x1="46.6" y1="459.2" x2="48.4" y2="459.2"/><line x1="46.6" y1="432.9" x2="48.4" y2="432.9"/><line x1="46.6" y1="406.6" x2="48.4" y2="406.6"/><line x1="46.6" y1="380.3" x2="48.4" y2="380.3"/><line x1="46.6" y1="354.0" x2="48.4" y2="354.0"/><line x1="46.6" y1="327.7" x2="48.4" y2="327.7"/><line x1="68.6" y1="511.6" x2="68.6" y2="513.2"/><line x1="137.8" y1="511.6" x2="137.8" y2="513.2"/><line x1="207.0" y1="511.6" x2="207.0" y2="513.2"/><line x1="276.2" y1="511.6" x2="276.2" y2="513.2"/><line x1="345.4" y1="511.6" x2="345.4" y2="513.2"/><line x1="414.6" y1="511.6" x2="414.6" y2="513.2"/><line x1="483.8" y1="511.6" x2="483.8" y2="513.2"/></g>
<g font-size="10.5" class="dv" text-anchor="end"><text class="dv" x="45.4" y="515.7">0</text><text class="dv" x="45.4" y="489.4">2</text><text class="dv" x="45.4" y="463.1">4</text><text class="dv" x="45.4" y="436.8">6</text><text class="dv" x="45.4" y="410.5">8</text><text class="dv" x="45.4" y="384.2">10</text><text class="dv" x="45.4" y="357.9">12</text><text class="dv" x="45.4" y="331.6">14</text></g>
<g font-size="10.3" class="dv" text-anchor="middle"><text class="dv" x="68.6" y="522.5">0.0</text><text class="dv" x="137.8" y="522.5">0.2</text><text class="dv" x="207.0" y="522.5">0.4</text><text class="dv" x="276.2" y="522.5">0.6</text><text class="dv" x="345.4" y="522.5">0.8</text><text class="dv" x="414.6" y="522.5">1.0</text><text class="dv" x="483.8" y="522.5">1.2</text></g>
<text class="dv" font-size="13.8" text-anchor="middle" transform="translate(25.0 415.9) rotate(-90)">Units</text>
<text x="277.8" y="540.7" font-size="14.2" text-anchor="middle" style="fill:#111">Mass (fg)</text>
<rect x="388.7" y="322.4" width="25.5" height="3.2" fill="#ff879d"/><rect x="388.7" y="342.9" width="25.5" height="3.2" fill="#73b8db"/>
<text x="424.0" y="327.4" font-size="13.8" style="fill:#111">Fe<tspan font-size="9" dy="2.6">3</tspan><tspan dy="-2.6">O</tspan><tspan font-size="9" dy="2.6">4</tspan><tspan dy="-2.6">@Au NPs</tspan></text>
<text x="423.6" y="349.3" font-size="13.8" style="fill:#111">AuNPs</text>
</svg>
</body></html>
